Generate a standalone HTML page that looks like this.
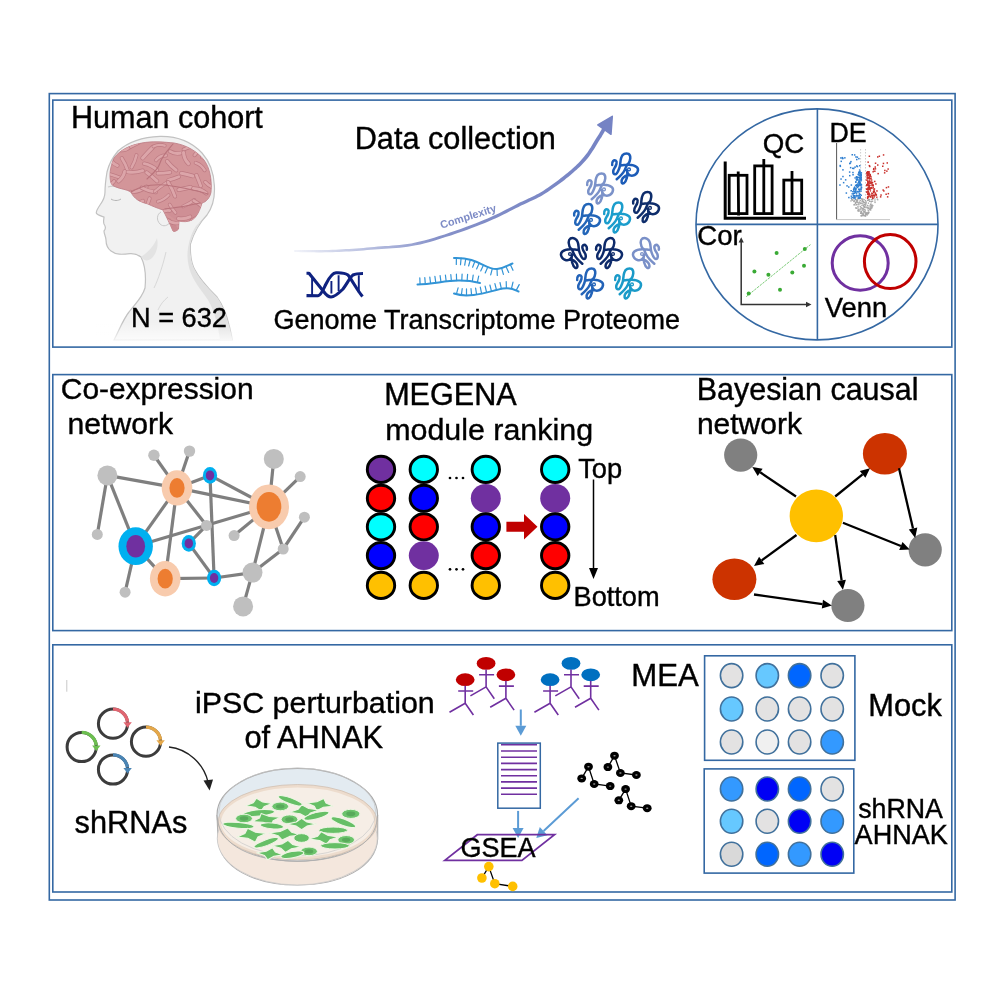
<!DOCTYPE html>
<html><head><meta charset="utf-8">
<style>
html,body{margin:0;padding:0;background:#fff;width:996px;height:996px;overflow:hidden}
svg{position:absolute;left:0;top:0;will-change:transform}
text{font-family:"Liberation Sans",sans-serif;fill:#000}
</style></head><body>
<svg width="996" height="996" viewBox="0 0 996 996">
<g fill="none" stroke="#3468a3" stroke-width="1.6">
<rect x="49.3" y="93.6" width="905.8" height="806.4"/>
<rect x="52.8" y="100.1" width="899" height="247"/>
<rect x="52.8" y="374.6" width="899" height="256"/>
<rect x="52.8" y="644.8" width="899" height="247.2"/>
</g>
<defs><clipPath id="hclip"><path d="M114,340 C120,328 124,318 129,312 C136,303 142,298 145,288 C146,278 145,265 141,257 C137,254 133,253.5 130,253.7 C122,254.5 116,255 111,251 C107,248 106,244 106,240 C106,237 104,234 104,231 C106,229 106,227 104,224 C103,221 104,219 104,217 C101,216 97,215 96.3,213 C96,211 98,208 100,205 C103,201 105,196 105,192 C105,185 106,178 107,172 C109,163 113,157 118,151 C128,142 142,137 160,136.3 C177,136 192,142 202,153 C210,162 214,175 214.4,186 C215,197 212,208 207,215 C200,222 194,232 190.4,244 C190,256 192,265 195,270 C200,280 210,290 217,297 C222,304 227,316 229,325 C230.5,330 231.5,336 232.5,340 Z"/></clipPath><linearGradient id="hfade" x1="0" y1="322" x2="0" y2="346" gradientUnits="userSpaceOnUse"><stop offset="0" stop-color="#fff" stop-opacity="0"/><stop offset="1" stop-color="#fff" stop-opacity="1"/></linearGradient></defs>
<path d="M114,340 C120,328 124,318 129,312 C136,303 142,298 145,288 C146,278 145,265 141,257 C137,254 133,253.5 130,253.7 C122,254.5 116,255 111,251 C107,248 106,244 106,240 C106,237 104,234 104,231 C106,229 106,227 104,224 C103,221 104,219 104,217 C101,216 97,215 96.3,213 C96,211 98,208 100,205 C103,201 105,196 105,192 C105,185 106,178 107,172 C109,163 113,157 118,151 C128,142 142,137 160,136.3 C177,136 192,142 202,153 C210,162 214,175 214.4,186 C215,197 212,208 207,215 C200,222 194,232 190.4,244 C190,256 192,265 195,270 C200,280 210,290 217,297 C222,304 227,316 229,325 C230.5,330 231.5,336 232.5,340 Z" fill="#f1f1f1" stroke="#c2c2c2" stroke-width="1.2"/>
<g clip-path="url(#hclip)">
<path d="M207,215 C200,222 194,232 190.4,244 C190,256 192,265 195,270 C200,280 210,290 217,297 C222,304 227,316 229,325 C230.5,330 231.5,336 232.5,340 L220,340 C218,325 214,310 208,300 C200,288 190,278 188,262 C186,250 190,235 196,226 Z" fill="#e1e1e1"/>
<path d="M141,257 C145,262 150,262 155,254 C158,248 158,243 157,238 C154,246 148,252 141,257 Z" fill="#e3e3e3"/>
<path d="M166,252 C163,265 158,280 154,288 M168,297 C164,300 160,305 158,310" fill="none" stroke="#d5d5d5" stroke-width="0.9"/>
</g>
<rect x="95" y="322" width="145" height="24" fill="url(#hfade)"/>
<path d="M161,212 C157,214 156,220 160,224 C163,227 168,226 170,222" fill="none" stroke="#c9c9c9" stroke-width="1"/>
<path d="M111,199 C114,201 118,201 121,199" fill="none" stroke="#b5b5b5" stroke-width="1"/>
<path d="M108,187 C111,186 115,186 118,187" fill="none" stroke="#cfcfcf" stroke-width="1.2"/>
<path d="M111,183 C109,176 110,167 114,158 C120,150 130,145 142,143 C152,141 164,142 174,143 C186,145 197,151 204,160 C210,168 212,180 211,192 C210,198 206,202 202,203 C200,210 197,217 192,220 C188,222 183,222 179,221 L178.5,229 C177,231 174,232 173,231 C170,224 166,216 163,210 C157,208 152,206 148,204 C140,202 134,199 131,192 C126,189 120,189 116,187 C113,186 112,185 111,183 Z" fill="#d39599" stroke="#c0828a" stroke-width="0.9"/>
<path d="M163,210 C170,207 185,205 200,203 C199,211 196,218 191,220 C186,222 180,222 176,220 C171,217 166,213 163,210 Z" fill="#cf8f95"/>
<path d="M170,218 L178.5,229 C177,231 174,232 173,231 C171,226 169,222 168,219 Z" fill="#cb8a90"/>
<defs><clipPath id="bclip"><path d="M111,183 C109,176 110,167 114,158 C120,150 130,145 142,143 C152,141 164,142 174,143 C186,145 197,151 204,160 C210,168 212,180 211,192 C210,198 206,202 202,203 C200,210 197,217 192,220 C188,222 183,222 179,221 L178.5,229 C177,231 174,232 173,231 C170,224 166,216 163,210 C157,208 152,206 148,204 C140,202 134,199 131,192 C126,189 120,189 116,187 C113,186 112,185 111,183 Z"/></clipPath></defs>
<g clip-path="url(#bclip)"><path d="M109.1,153.3 Q112.7,146.4 116.4,139.6" fill="none" stroke="#bd7a82" stroke-width="3.6" stroke-linecap="round"/><path d="M109.1,153.3 Q112.7,146.4 116.4,139.6" fill="none" stroke="#dca5a9" stroke-width="2.2" stroke-linecap="round"/><path d="M110.1,157.7 Q111.8,163.5 117.4,165.6" fill="none" stroke="#bd7a82" stroke-width="4.3" stroke-linecap="round"/><path d="M110.1,157.7 Q111.8,163.5 117.4,165.6" fill="none" stroke="#dca5a9" stroke-width="2.9" stroke-linecap="round"/><path d="M106.4,173.2 Q113.6,175.2 120.4,177.8" fill="none" stroke="#bd7a82" stroke-width="3.7" stroke-linecap="round"/><path d="M106.4,173.2 Q113.6,175.2 120.4,177.8" fill="none" stroke="#dca5a9" stroke-width="2.3" stroke-linecap="round"/><path d="M104.2,192.5 Q109.0,186.6 114.1,181.1" fill="none" stroke="#bd7a82" stroke-width="3.9" stroke-linecap="round"/><path d="M104.2,192.5 Q109.0,186.6 114.1,181.1" fill="none" stroke="#dca5a9" stroke-width="2.5" stroke-linecap="round"/><path d="M112.1,194.8 Q114.9,201.8 117.3,209.0" fill="none" stroke="#bd7a82" stroke-width="4.6" stroke-linecap="round"/><path d="M112.1,194.8 Q114.9,201.8 117.3,209.0" fill="none" stroke="#dca5a9" stroke-width="3.2" stroke-linecap="round"/><path d="M107.2,212.9 Q114.4,211.4 121.6,212.5" fill="none" stroke="#bd7a82" stroke-width="4.1" stroke-linecap="round"/><path d="M107.2,212.9 Q114.4,211.4 121.6,212.5" fill="none" stroke="#dca5a9" stroke-width="2.7" stroke-linecap="round"/><path d="M119.0,149.7 Q125.0,151.3 129.6,147.2" fill="none" stroke="#bd7a82" stroke-width="4.0" stroke-linecap="round"/><path d="M119.0,149.7 Q125.0,151.3 129.6,147.2" fill="none" stroke="#dca5a9" stroke-width="2.6" stroke-linecap="round"/><path d="M121.8,158.2 Q125.6,164.0 127.7,170.6" fill="none" stroke="#bd7a82" stroke-width="4.1" stroke-linecap="round"/><path d="M121.8,158.2 Q125.6,164.0 127.7,170.6" fill="none" stroke="#dca5a9" stroke-width="2.7" stroke-linecap="round"/><path d="M118.5,181.2 Q123.4,177.5 124.7,171.4" fill="none" stroke="#bd7a82" stroke-width="4.4" stroke-linecap="round"/><path d="M118.5,181.2 Q123.4,177.5 124.7,171.4" fill="none" stroke="#dca5a9" stroke-width="3.0" stroke-linecap="round"/><path d="M116.2,196.9 Q123.6,195.6 130.1,192.1" fill="none" stroke="#bd7a82" stroke-width="4.4" stroke-linecap="round"/><path d="M116.2,196.9 Q123.6,195.6 130.1,192.1" fill="none" stroke="#dca5a9" stroke-width="3.0" stroke-linecap="round"/><path d="M119.4,201.1 Q125.6,205.1 132.8,206.8" fill="none" stroke="#bd7a82" stroke-width="4.0" stroke-linecap="round"/><path d="M119.4,201.1 Q125.6,205.1 132.8,206.8" fill="none" stroke="#dca5a9" stroke-width="2.6" stroke-linecap="round"/><path d="M120.7,221.1 Q126.9,218.8 131.8,214.5" fill="none" stroke="#bd7a82" stroke-width="4.4" stroke-linecap="round"/><path d="M120.7,221.1 Q126.9,218.8 131.8,214.5" fill="none" stroke="#dca5a9" stroke-width="3.0" stroke-linecap="round"/><path d="M130.8,146.5 Q137.9,143.2 144.6,139.0" fill="none" stroke="#bd7a82" stroke-width="4.2" stroke-linecap="round"/><path d="M130.8,146.5 Q137.9,143.2 144.6,139.0" fill="none" stroke="#dca5a9" stroke-width="2.8" stroke-linecap="round"/><path d="M131.6,167.4 Q135.0,161.6 136.5,155.1" fill="none" stroke="#bd7a82" stroke-width="3.9" stroke-linecap="round"/><path d="M131.6,167.4 Q135.0,161.6 136.5,155.1" fill="none" stroke="#dca5a9" stroke-width="2.5" stroke-linecap="round"/><path d="M127.8,172.0 Q135.4,173.1 142.7,170.6" fill="none" stroke="#bd7a82" stroke-width="4.2" stroke-linecap="round"/><path d="M127.8,172.0 Q135.4,173.1 142.7,170.6" fill="none" stroke="#dca5a9" stroke-width="2.8" stroke-linecap="round"/><path d="M133.4,191.8 Q140.6,191.1 146.4,186.7" fill="none" stroke="#bd7a82" stroke-width="4.3" stroke-linecap="round"/><path d="M133.4,191.8 Q140.6,191.1 146.4,186.7" fill="none" stroke="#dca5a9" stroke-width="2.9" stroke-linecap="round"/><path d="M128.7,206.5 Q136.1,204.8 142.8,201.1" fill="none" stroke="#bd7a82" stroke-width="4.5" stroke-linecap="round"/><path d="M128.7,206.5 Q136.1,204.8 142.8,201.1" fill="none" stroke="#dca5a9" stroke-width="3.1" stroke-linecap="round"/><path d="M134.1,208.8 Q137.1,216.1 140.4,223.3" fill="none" stroke="#bd7a82" stroke-width="4.1" stroke-linecap="round"/><path d="M134.1,208.8 Q137.1,216.1 140.4,223.3" fill="none" stroke="#dca5a9" stroke-width="2.7" stroke-linecap="round"/><path d="M142.6,158.1 Q147.6,152.6 152.9,147.2" fill="none" stroke="#bd7a82" stroke-width="4.5" stroke-linecap="round"/><path d="M142.6,158.1 Q147.6,152.6 152.9,147.2" fill="none" stroke="#dca5a9" stroke-width="3.1" stroke-linecap="round"/><path d="M144.3,163.6 Q151.5,165.0 157.0,170.0" fill="none" stroke="#bd7a82" stroke-width="4.3" stroke-linecap="round"/><path d="M144.3,163.6 Q151.5,165.0 157.0,170.0" fill="none" stroke="#dca5a9" stroke-width="2.9" stroke-linecap="round"/><path d="M146.6,172.5 Q152.2,176.4 157.1,181.1" fill="none" stroke="#bd7a82" stroke-width="4.3" stroke-linecap="round"/><path d="M146.6,172.5 Q152.2,176.4 157.1,181.1" fill="none" stroke="#dca5a9" stroke-width="2.9" stroke-linecap="round"/><path d="M141.7,187.8 Q148.3,191.3 155.7,192.2" fill="none" stroke="#bd7a82" stroke-width="4.2" stroke-linecap="round"/><path d="M141.7,187.8 Q148.3,191.3 155.7,192.2" fill="none" stroke="#dca5a9" stroke-width="2.8" stroke-linecap="round"/><path d="M145.2,208.4 Q148.2,203.8 149.6,198.4" fill="none" stroke="#bd7a82" stroke-width="4.0" stroke-linecap="round"/><path d="M145.2,208.4 Q148.2,203.8 149.6,198.4" fill="none" stroke="#dca5a9" stroke-width="2.6" stroke-linecap="round"/><path d="M142.8,225.1 Q146.6,218.5 153.8,216.1" fill="none" stroke="#bd7a82" stroke-width="4.2" stroke-linecap="round"/><path d="M142.8,225.1 Q146.6,218.5 153.8,216.1" fill="none" stroke="#dca5a9" stroke-width="2.8" stroke-linecap="round"/><path d="M153.4,146.5 Q158.9,143.9 164.7,145.7" fill="none" stroke="#bd7a82" stroke-width="3.7" stroke-linecap="round"/><path d="M153.4,146.5 Q158.9,143.9 164.7,145.7" fill="none" stroke="#dca5a9" stroke-width="2.3" stroke-linecap="round"/><path d="M156.0,160.3 Q159.8,155.3 166.0,155.5" fill="none" stroke="#bd7a82" stroke-width="3.8" stroke-linecap="round"/><path d="M156.0,160.3 Q159.8,155.3 166.0,155.5" fill="none" stroke="#dca5a9" stroke-width="2.4" stroke-linecap="round"/><path d="M157.8,173.4 Q164.0,173.4 170.0,172.4" fill="none" stroke="#bd7a82" stroke-width="4.2" stroke-linecap="round"/><path d="M157.8,173.4 Q164.0,173.4 170.0,172.4" fill="none" stroke="#dca5a9" stroke-width="2.8" stroke-linecap="round"/><path d="M154.7,191.5 Q160.6,186.4 167.1,182.3" fill="none" stroke="#bd7a82" stroke-width="3.6" stroke-linecap="round"/><path d="M154.7,191.5 Q160.6,186.4 167.1,182.3" fill="none" stroke="#dca5a9" stroke-width="2.2" stroke-linecap="round"/><path d="M157.9,201.6 Q164.3,200.0 168.6,195.1" fill="none" stroke="#bd7a82" stroke-width="3.7" stroke-linecap="round"/><path d="M157.9,201.6 Q164.3,200.0 168.6,195.1" fill="none" stroke="#dca5a9" stroke-width="2.3" stroke-linecap="round"/><path d="M160.0,213.7 Q164.1,209.8 169.7,210.6" fill="none" stroke="#bd7a82" stroke-width="4.2" stroke-linecap="round"/><path d="M160.0,213.7 Q164.1,209.8 169.7,210.6" fill="none" stroke="#dca5a9" stroke-width="2.8" stroke-linecap="round"/><path d="M170.0,151.4 Q175.7,154.8 182.0,152.7" fill="none" stroke="#bd7a82" stroke-width="4.2" stroke-linecap="round"/><path d="M170.0,151.4 Q175.7,154.8 182.0,152.7" fill="none" stroke="#dca5a9" stroke-width="2.8" stroke-linecap="round"/><path d="M167.2,161.3 Q171.0,166.3 176.1,170.1" fill="none" stroke="#bd7a82" stroke-width="4.4" stroke-linecap="round"/><path d="M167.2,161.3 Q171.0,166.3 176.1,170.1" fill="none" stroke="#dca5a9" stroke-width="3.0" stroke-linecap="round"/><path d="M168.5,180.2 Q173.8,178.8 178.8,176.8" fill="none" stroke="#bd7a82" stroke-width="4.2" stroke-linecap="round"/><path d="M168.5,180.2 Q173.8,178.8 178.8,176.8" fill="none" stroke="#dca5a9" stroke-width="2.8" stroke-linecap="round"/><path d="M168.1,182.2 Q172.4,188.9 175.0,196.4" fill="none" stroke="#bd7a82" stroke-width="4.2" stroke-linecap="round"/><path d="M168.1,182.2 Q172.4,188.9 175.0,196.4" fill="none" stroke="#dca5a9" stroke-width="2.8" stroke-linecap="round"/><path d="M169.7,204.6 Q172.3,209.0 175.4,212.8" fill="none" stroke="#bd7a82" stroke-width="3.7" stroke-linecap="round"/><path d="M169.7,204.6 Q172.3,209.0 175.4,212.8" fill="none" stroke="#dca5a9" stroke-width="2.3" stroke-linecap="round"/><path d="M167.5,220.0 Q172.0,223.8 177.9,223.0" fill="none" stroke="#bd7a82" stroke-width="4.2" stroke-linecap="round"/><path d="M167.5,220.0 Q172.0,223.8 177.9,223.0" fill="none" stroke="#dca5a9" stroke-width="2.8" stroke-linecap="round"/><path d="M183.6,149.5 Q189.2,146.5 195.6,145.8" fill="none" stroke="#bd7a82" stroke-width="3.8" stroke-linecap="round"/><path d="M183.6,149.5 Q189.2,146.5 195.6,145.8" fill="none" stroke="#dca5a9" stroke-width="2.4" stroke-linecap="round"/><path d="M183.6,152.5 Q183.8,159.1 188.5,163.7" fill="none" stroke="#bd7a82" stroke-width="4.6" stroke-linecap="round"/><path d="M183.6,152.5 Q183.8,159.1 188.5,163.7" fill="none" stroke="#dca5a9" stroke-width="3.2" stroke-linecap="round"/><path d="M181.5,173.3 Q187.2,174.6 192.8,176.0" fill="none" stroke="#bd7a82" stroke-width="4.6" stroke-linecap="round"/><path d="M181.5,173.3 Q187.2,174.6 192.8,176.0" fill="none" stroke="#dca5a9" stroke-width="3.2" stroke-linecap="round"/><path d="M178.8,189.7 Q184.6,188.4 190.5,187.3" fill="none" stroke="#bd7a82" stroke-width="4.6" stroke-linecap="round"/><path d="M178.8,189.7 Q184.6,188.4 190.5,187.3" fill="none" stroke="#dca5a9" stroke-width="3.2" stroke-linecap="round"/><path d="M183.2,206.4 Q189.1,203.8 194.4,200.0" fill="none" stroke="#bd7a82" stroke-width="3.7" stroke-linecap="round"/><path d="M183.2,206.4 Q189.1,203.8 194.4,200.0" fill="none" stroke="#dca5a9" stroke-width="2.3" stroke-linecap="round"/><path d="M178.4,218.5 Q184.5,219.6 190.0,216.9" fill="none" stroke="#bd7a82" stroke-width="4.4" stroke-linecap="round"/><path d="M178.4,218.5 Q184.5,219.6 190.0,216.9" fill="none" stroke="#dca5a9" stroke-width="3.0" stroke-linecap="round"/><path d="M194.6,155.2 Q199.5,150.0 199.5,142.9" fill="none" stroke="#bd7a82" stroke-width="3.9" stroke-linecap="round"/><path d="M194.6,155.2 Q199.5,150.0 199.5,142.9" fill="none" stroke="#dca5a9" stroke-width="2.5" stroke-linecap="round"/><path d="M195.7,162.9 Q201.5,164.9 204.6,170.2" fill="none" stroke="#bd7a82" stroke-width="3.9" stroke-linecap="round"/><path d="M195.7,162.9 Q201.5,164.9 204.6,170.2" fill="none" stroke="#dca5a9" stroke-width="2.5" stroke-linecap="round"/><path d="M196.4,175.1 Q198.7,180.5 200.7,186.0" fill="none" stroke="#bd7a82" stroke-width="4.2" stroke-linecap="round"/><path d="M196.4,175.1 Q198.7,180.5 200.7,186.0" fill="none" stroke="#dca5a9" stroke-width="2.8" stroke-linecap="round"/><path d="M193.4,188.5 Q200.6,188.7 206.2,193.2" fill="none" stroke="#bd7a82" stroke-width="4.3" stroke-linecap="round"/><path d="M193.4,188.5 Q200.6,188.7 206.2,193.2" fill="none" stroke="#dca5a9" stroke-width="2.9" stroke-linecap="round"/><path d="M193.7,200.6 Q199.0,203.3 203.1,207.6" fill="none" stroke="#bd7a82" stroke-width="4.1" stroke-linecap="round"/><path d="M193.7,200.6 Q199.0,203.3 203.1,207.6" fill="none" stroke="#dca5a9" stroke-width="2.7" stroke-linecap="round"/><path d="M191.2,221.0 Q196.6,217.2 202.8,214.8" fill="none" stroke="#bd7a82" stroke-width="4.1" stroke-linecap="round"/><path d="M191.2,221.0 Q196.6,217.2 202.8,214.8" fill="none" stroke="#dca5a9" stroke-width="2.7" stroke-linecap="round"/><path d="M207.5,144.2 Q214.0,146.8 218.7,151.8" fill="none" stroke="#bd7a82" stroke-width="3.6" stroke-linecap="round"/><path d="M207.5,144.2 Q214.0,146.8 218.7,151.8" fill="none" stroke="#dca5a9" stroke-width="2.2" stroke-linecap="round"/><path d="M202.3,157.1 Q210.0,156.6 217.7,155.5" fill="none" stroke="#bd7a82" stroke-width="4.5" stroke-linecap="round"/><path d="M202.3,157.1 Q210.0,156.6 217.7,155.5" fill="none" stroke="#dca5a9" stroke-width="3.1" stroke-linecap="round"/><path d="M212.2,180.0 Q215.3,173.4 217.7,166.4" fill="none" stroke="#bd7a82" stroke-width="4.0" stroke-linecap="round"/><path d="M212.2,180.0 Q215.3,173.4 217.7,166.4" fill="none" stroke="#dca5a9" stroke-width="2.6" stroke-linecap="round"/><path d="M205.4,182.1 Q210.2,187.6 217.5,188.8" fill="none" stroke="#bd7a82" stroke-width="4.1" stroke-linecap="round"/><path d="M205.4,182.1 Q210.2,187.6 217.5,188.8" fill="none" stroke="#dca5a9" stroke-width="2.7" stroke-linecap="round"/><path d="M206.6,204.7 Q212.1,201.2 218.5,201.3" fill="none" stroke="#bd7a82" stroke-width="4.5" stroke-linecap="round"/><path d="M206.6,204.7 Q212.1,201.2 218.5,201.3" fill="none" stroke="#dca5a9" stroke-width="3.1" stroke-linecap="round"/><path d="M205.2,218.1 Q212.7,216.3 218.3,211.0" fill="none" stroke="#bd7a82" stroke-width="3.7" stroke-linecap="round"/><path d="M205.2,218.1 Q212.7,216.3 218.3,211.0" fill="none" stroke="#dca5a9" stroke-width="2.3" stroke-linecap="round"/></g>
<g fill="none" stroke="#b9737b" stroke-width="1.1" stroke-linecap="round">
<path d="M173,144 C168,150 162,156 160,163 C158,170 152,174 147,179"/>
<path d="M131,192 C140,186 152,184 165,185 C180,187 195,190 208,194"/>
<path d="M165,209 C175,208 188,206 200,203"/>
</g>
<defs><linearGradient id="cg" x1="296" y1="0" x2="612" y2="0" gradientUnits="userSpaceOnUse">
<stop offset="0" stop-color="#8a96cc" stop-opacity="0.12"/><stop offset="0.22" stop-color="#8a96cc" stop-opacity="0.6"/><stop offset="0.45" stop-color="#7f8bc6" stop-opacity="0.95"/><stop offset="1" stop-color="#7583c4"/></linearGradient></defs>
<path d="M294.2,252.1 L296.0,252.1 L298.3,252.1 L300.9,252.2 L303.9,252.2 L307.1,252.3 L310.6,252.3 L314.1,252.3 L317.8,252.4 L321.5,252.4 L325.2,252.3 L328.8,252.3 L332.2,252.2 L335.6,252.1 L339.0,251.9 L342.4,251.8 L345.9,251.6 L349.3,251.4 L352.9,251.2 L356.4,250.9 L359.9,250.7 L363.5,250.4 L367.1,250.1 L370.8,249.8 L374.4,249.5 L378.0,249.2 L381.6,248.9 L385.2,248.7 L388.8,248.5 L392.4,248.3 L396.1,248.0 L399.9,247.7 L403.7,247.2 L407.7,246.7 L411.7,246.1 L415.9,245.3 L420.3,244.4 L424.9,243.2 L429.8,241.9 L434.9,240.4 L440.2,238.8 L445.5,237.1 L450.9,235.4 L456.3,233.5 L461.6,231.7 L466.7,229.9 L471.7,228.0 L476.4,226.3 L480.8,224.6 L484.9,223.0 L488.9,221.3 L492.7,219.6 L496.4,217.9 L500.0,216.2 L503.4,214.5 L506.7,212.9 L509.8,211.3 L512.8,209.7 L515.7,208.3 L518.5,206.9 L521.1,205.6 L523.6,204.4 L525.8,203.4 L527.9,202.4 L529.8,201.6 L531.5,200.8 L533.2,200.0 L534.9,199.2 L536.5,198.5 L538.2,197.6 L539.9,196.7 L541.7,195.7 L543.6,194.5 L545.6,193.3 L547.7,192.0 L549.8,190.6 L551.9,189.1 L554.0,187.6 L556.2,186.1 L558.3,184.5 L560.4,183.0 L562.5,181.4 L564.5,179.9 L566.4,178.3 L568.2,176.9 L570.0,175.4 L571.7,174.0 L573.4,172.6 L575.0,171.1 L576.6,169.7 L578.1,168.3 L579.6,166.9 L581.1,165.4 L582.5,164.0 L583.9,162.5 L585.3,161.0 L586.6,159.5 L587.9,157.9 L589.2,156.2 L590.4,154.5 L591.6,152.8 L592.7,151.1 L593.8,149.4 L594.9,147.7 L595.9,146.0 L596.8,144.4 L597.7,143.0 L598.6,141.6 L599.4,140.3 L600.1,139.1 L600.9,138.0 L601.6,136.9 L602.2,135.8 L602.8,134.8 L603.3,133.9 L603.8,133.1 L604.3,132.3 L604.7,131.6 L605.0,131.0 L605.4,130.4 L605.6,130.0 L602.4,128.0 L602.1,128.5 L601.8,129.1 L601.4,129.7 L601.0,130.4 L600.5,131.2 L600.1,132.0 L599.5,132.9 L599.0,133.9 L598.3,134.9 L597.7,136.0 L597.0,137.1 L596.2,138.3 L595.4,139.6 L594.5,141.0 L593.6,142.5 L592.7,144.1 L591.7,145.7 L590.7,147.4 L589.6,149.1 L588.5,150.8 L587.4,152.4 L586.2,154.0 L585.0,155.6 L583.8,157.1 L582.5,158.6 L581.2,160.0 L579.9,161.5 L578.5,162.9 L577.1,164.3 L575.7,165.7 L574.2,167.1 L572.6,168.5 L571.0,169.9 L569.4,171.3 L567.7,172.7 L566.0,174.1 L564.2,175.6 L562.3,177.1 L560.3,178.6 L558.3,180.2 L556.2,181.7 L554.1,183.3 L552.0,184.8 L549.9,186.3 L547.8,187.7 L545.8,189.1 L543.8,190.4 L541.8,191.7 L540.0,192.8 L538.3,193.7 L536.6,194.6 L535.0,195.5 L533.4,196.2 L531.8,197.0 L530.2,197.8 L528.4,198.6 L526.5,199.4 L524.4,200.4 L522.2,201.4 L519.7,202.6 L517.0,203.9 L514.2,205.4 L511.3,206.9 L508.3,208.4 L505.2,210.0 L502.0,211.7 L498.6,213.4 L495.1,215.1 L491.4,216.8 L487.6,218.5 L483.7,220.1 L479.6,221.8 L475.3,223.4 L470.6,225.2 L465.7,227.0 L460.6,228.9 L455.3,230.7 L450.0,232.6 L444.6,234.4 L439.3,236.1 L434.1,237.7 L429.0,239.2 L424.2,240.5 L419.7,241.6 L415.4,242.6 L411.3,243.4 L407.3,244.0 L403.4,244.6 L399.6,245.0 L395.9,245.3 L392.3,245.6 L388.6,245.9 L385.0,246.1 L381.5,246.3 L377.8,246.6 L374.2,246.9 L370.5,247.3 L366.9,247.6 L363.3,247.9 L359.8,248.2 L356.2,248.4 L352.7,248.7 L349.2,248.9 L345.7,249.1 L342.3,249.3 L338.9,249.5 L335.5,249.7 L332.2,249.8 L328.7,249.9 L325.2,250.0 L321.5,250.0 L317.8,250.1 L314.2,250.1 L310.6,250.0 L307.1,250.0 L303.9,250.0 L300.9,250.0 L298.3,249.9 L296.0,249.9 L294.2,249.9Z" fill="url(#cg)"/>
<path d="M612.3,116.3 L597.8,125 L611,134.3 Z" fill="#7583c4" stroke="#7583c4" stroke-width="1.5" stroke-linejoin="round"/>
<text x="441.5" y="228.8" font-size="10.8" font-weight="bold" transform="rotate(-17.5 441.5 228.8)" style="fill:#7d8bc6">Complexity</text>
<g fill="none" stroke="#0f2280" stroke-linecap="butt" stroke-linejoin="round">
<path d="M306.5,273.2 H309 L324,292 C327,296 329,297 331,297 C335,297 339,293 343,289 C347,284 350,277 353,275 C356,273.5 359,273.5 363,273.5" stroke-width="3.1"/>
<path d="M306.5,295.6 L318,295.8 C321,295.5 323,290 326,284 C329,278 332,273 336,272.8 C340,272.6 345,273 348,275 C352,280 357,290 362.5,296.5" stroke-width="3.1"/>
<path d="M312.1,278 V295 M331.4,281 V293.4 M338.6,275.3 V291 M358.8,275.3 V292.8" stroke-width="1.9"/>
</g>
<g fill="none" stroke="#3294d6" stroke-linecap="round"><path d="M454,258 C478,257 486,270 497,269 C505,268 508,265 512.5,263.5" stroke-width="2"/><path d="M417.5,284.5 C440,284 455,277 480,283" stroke-width="2"/><path d="M454,293.5 C470,299 490,291 503,288.5 C512,287 515,290 518.5,291.5" stroke-width="2"/><path d="M456.4,257.9 L456.3,264.4 M461.1,258.1 L460.5,264.6 M465.8,258.7 L464.7,265.1 M470.4,259.7 L468.6,266.0 M474.9,261.2 L472.6,267.2 M479.3,263.0 L476.6,268.9 M483.5,265.0 L480.7,270.9 M487.8,267.1 L485.2,273.0 M492.3,268.6 L490.7,274.9 M497.0,269.0 L497.3,275.5 M501.6,268.1 L503.4,274.4 M506.0,266.4 L508.7,272.4 M510.3,264.4 L513.0,270.3" stroke-width="1.2"/><path d="M420.1,284.4 L419.8,277.9 M425.3,284.1 L424.8,277.6 M430.6,283.5 L429.8,277.1 M435.8,282.9 L434.9,276.4 M441.0,282.2 L440.1,275.7 M446.2,281.5 L445.4,275.0 M451.4,281.0 L450.8,274.5 M456.6,280.6 L456.4,274.2 M461.8,280.6 L462.1,274.1 M467.1,280.9 L467.6,274.4 M472.3,281.5 L473.2,275.1 M477.4,282.4 L478.7,276.0" stroke-width="1.2"/><path d="M456.4,294.2 L458.1,287.9 M461.4,295.1 L462.2,288.7 M466.5,295.4 L466.5,288.9 M471.6,295.1 L471.0,288.7 M476.6,294.5 L475.6,288.1 M481.6,293.6 L480.3,287.2 M486.6,292.5 L485.1,286.2 M491.5,291.3 L489.9,285.0 M496.5,290.0 L494.9,283.7 M501.4,288.8 L500.0,282.5 M506.4,288.1 L506.2,281.6 M511.5,288.5 L513.0,282.2 M516.2,290.4 L519.2,284.6" stroke-width="1.2"/></g>
<defs><g id="prot"><path d="M-12.8,-2.9 C-13.4,-6.1 -11.2,-8.7 -9,-7.2 C-7.6,-6.1 -8.7,-2.5 -10.5,0 C-12.3,2.5 -12.3,6.5 -9.8,6.3 C-7.6,6.1 -6.5,2.2 -5.4,-0.7 C-4.3,-3.6 -5.1,-7.2 -3.6,-10.8 C-2.5,-13.7 0.7,-15.5 3.6,-14.1 C6.1,-12.6 5.8,-7.2 2.9,-3.6 M-4.3,-2.5 C0,-3.6 7.9,-4 11.6,-1.1 C14.5,1.4 12.6,6.5 7.9,7.6 C4.3,8.3 2.2,5.4 1.8,2.2 M-8.3,11.2 C-5.4,8.7 -2.2,5.8 -0.4,2.2 C0.7,0 1.4,-1.8 2.2,-3.6 M2.2,3.6 C2.9,7.2 1.4,13.7 -1.1,15.2 C-3.6,16.3 -4.3,13 -2.2,10.1 C-0.4,7.9 1.4,6.9 4.3,7.2" fill="none" stroke-width="2.5" stroke-linecap="round"/><circle cx="4" cy="1.4" r="1.4" fill="none" stroke-width="1.3"/></g></defs>
<use href="#prot" transform="translate(625,168)" stroke="#1c5cb8"/>
<use href="#prot" transform="translate(600,188)" stroke="#7b92c9"/>
<use href="#prot" transform="translate(646,206.5)" stroke="#0e2d6b"/>
<use href="#prot" transform="translate(587,218.5)" stroke="#2265b8"/>
<use href="#prot" transform="translate(617,217)" stroke="#1b9dcc"/>
<use href="#prot" transform="translate(574,252.6) scale(-1,1)" stroke="#0d2a6a"/>
<use href="#prot" transform="translate(609,252.6)" stroke="#0d2a6a"/>
<use href="#prot" transform="translate(646,252.6) scale(-1,1)" stroke="#7a90c8"/>
<use href="#prot" transform="translate(590,283)" stroke="#2363b8"/>
<use href="#prot" transform="translate(628,283)" stroke="#1a9ac8"/>
<ellipse cx="817" cy="224.4" rx="121" ry="115.5" fill="none" stroke="#3468a3" stroke-width="1.6"/>
<path d="M817.4,109 V340 M696,224.4 H938" stroke="#3468a3" stroke-width="1.6"/>
<g fill="none" stroke="#000" stroke-width="2.8">
<path d="M725.2,161.5 V218.2 H806" stroke-width="3"/>
<rect x="729.2" y="175.3" width="17.8" height="38.3"/>
<rect x="754.7" y="165.9" width="17.4" height="47.7"/>
<rect x="783.8" y="180.1" width="17.9" height="33.5"/>
<path d="M738.2,171.5 L738.6,215.4 M763.8,159 V215 M792,171 V215"/>
</g>
<g><path d="M836.6,143 V219.6" stroke="#444" stroke-width="0.9"/><path d="M836.6,219.6 H890" stroke="#c8c8c8" stroke-width="1"/><path d="M860.6,149 V218 M865.5,149 V218" stroke="#aaa" stroke-width="0.6" stroke-dasharray="1.5,1.5"/><rect x="855.7" y="203.7" width="1.3" height="1.3" fill="#a6a6a6"/><rect x="857.4" y="209.4" width="1.3" height="1.3" fill="#a6a6a6"/><rect x="861.1" y="207.4" width="1.3" height="1.3" fill="#a6a6a6"/><rect x="863.5" y="199.0" width="1.3" height="1.3" fill="#a6a6a6"/><rect x="861.4" y="198.7" width="1.3" height="1.3" fill="#a6a6a6"/><rect x="851.7" y="199.2" width="1.3" height="1.3" fill="#a6a6a6"/><rect x="869.6" y="205.4" width="1.3" height="1.3" fill="#a6a6a6"/><rect x="855.9" y="200.2" width="1.3" height="1.3" fill="#a6a6a6"/><rect x="869.7" y="209.0" width="1.3" height="1.3" fill="#a6a6a6"/><rect x="861.7" y="208.1" width="1.3" height="1.3" fill="#a6a6a6"/><rect x="860.8" y="215.1" width="1.3" height="1.3" fill="#a6a6a6"/><rect x="861.5" y="213.0" width="1.3" height="1.3" fill="#a6a6a6"/><rect x="853.2" y="200.5" width="1.3" height="1.3" fill="#a6a6a6"/><rect x="870.3" y="203.4" width="1.3" height="1.3" fill="#a6a6a6"/><rect x="865.4" y="201.2" width="1.3" height="1.3" fill="#a6a6a6"/><rect x="861.5" y="209.2" width="1.3" height="1.3" fill="#a6a6a6"/><rect x="856.2" y="207.6" width="1.3" height="1.3" fill="#a6a6a6"/><rect x="854.9" y="199.0" width="1.3" height="1.3" fill="#a6a6a6"/><rect x="862.4" y="209.9" width="1.3" height="1.3" fill="#a6a6a6"/><rect x="865.2" y="203.5" width="1.3" height="1.3" fill="#a6a6a6"/><rect x="859.6" y="205.9" width="1.3" height="1.3" fill="#a6a6a6"/><rect x="865.3" y="211.9" width="1.3" height="1.3" fill="#a6a6a6"/><rect x="865.1" y="202.3" width="1.3" height="1.3" fill="#a6a6a6"/><rect x="869.6" y="207.2" width="1.3" height="1.3" fill="#a6a6a6"/><rect x="860.8" y="210.8" width="1.3" height="1.3" fill="#a6a6a6"/><rect x="861.2" y="215.2" width="1.3" height="1.3" fill="#a6a6a6"/><rect x="868.3" y="205.3" width="1.3" height="1.3" fill="#a6a6a6"/><rect x="863.0" y="200.7" width="1.3" height="1.3" fill="#a6a6a6"/><rect x="868.2" y="198.7" width="1.3" height="1.3" fill="#a6a6a6"/><rect x="864.1" y="211.4" width="1.3" height="1.3" fill="#a6a6a6"/><rect x="861.8" y="213.3" width="1.3" height="1.3" fill="#a6a6a6"/><rect x="864.5" y="210.2" width="1.3" height="1.3" fill="#a6a6a6"/><rect x="862.6" y="208.1" width="1.3" height="1.3" fill="#a6a6a6"/><rect x="867.3" y="212.7" width="1.3" height="1.3" fill="#a6a6a6"/><rect x="866.3" y="206.3" width="1.3" height="1.3" fill="#a6a6a6"/><rect x="869.0" y="199.1" width="1.3" height="1.3" fill="#a6a6a6"/><rect x="870.1" y="209.3" width="1.3" height="1.3" fill="#a6a6a6"/><rect x="861.3" y="212.4" width="1.3" height="1.3" fill="#a6a6a6"/><rect x="866.7" y="204.8" width="1.3" height="1.3" fill="#a6a6a6"/><rect x="862.2" y="198.4" width="1.3" height="1.3" fill="#a6a6a6"/><rect x="853.4" y="200.9" width="1.3" height="1.3" fill="#a6a6a6"/><rect x="871.0" y="199.0" width="1.3" height="1.3" fill="#a6a6a6"/><rect x="856.5" y="200.3" width="1.3" height="1.3" fill="#a6a6a6"/><rect x="870.8" y="204.8" width="1.3" height="1.3" fill="#a6a6a6"/><rect x="861.9" y="199.4" width="1.3" height="1.3" fill="#a6a6a6"/><rect x="869.5" y="207.6" width="1.3" height="1.3" fill="#a6a6a6"/><rect x="866.8" y="212.3" width="1.3" height="1.3" fill="#a6a6a6"/><rect x="861.3" y="202.9" width="1.3" height="1.3" fill="#a6a6a6"/><rect x="871.4" y="204.3" width="1.3" height="1.3" fill="#a6a6a6"/><rect x="861.2" y="214.8" width="1.3" height="1.3" fill="#a6a6a6"/><rect x="856.4" y="201.1" width="1.3" height="1.3" fill="#a6a6a6"/><rect x="862.9" y="202.1" width="1.3" height="1.3" fill="#a6a6a6"/><rect x="859.7" y="208.3" width="1.3" height="1.3" fill="#a6a6a6"/><rect x="860.9" y="198.1" width="1.3" height="1.3" fill="#a6a6a6"/><rect x="864.7" y="204.5" width="1.3" height="1.3" fill="#a6a6a6"/><rect x="864.5" y="214.7" width="1.3" height="1.3" fill="#a6a6a6"/><rect x="865.3" y="207.0" width="1.3" height="1.3" fill="#a6a6a6"/><rect x="857.5" y="209.8" width="1.3" height="1.3" fill="#a6a6a6"/><rect x="865.4" y="213.7" width="1.3" height="1.3" fill="#a6a6a6"/><rect x="865.7" y="213.3" width="1.3" height="1.3" fill="#a6a6a6"/><rect x="861.3" y="204.9" width="1.3" height="1.3" fill="#a6a6a6"/><rect x="867.0" y="199.8" width="1.3" height="1.3" fill="#a6a6a6"/><rect x="851.0" y="199.1" width="1.3" height="1.3" fill="#a6a6a6"/><rect x="854.9" y="201.7" width="1.3" height="1.3" fill="#a6a6a6"/><rect x="853.7" y="204.0" width="1.3" height="1.3" fill="#a6a6a6"/><rect x="852.8" y="198.0" width="1.3" height="1.3" fill="#a6a6a6"/><rect x="859.6" y="199.8" width="1.3" height="1.3" fill="#a6a6a6"/><rect x="874.3" y="198.4" width="1.3" height="1.3" fill="#a6a6a6"/><rect x="858.2" y="208.7" width="1.3" height="1.3" fill="#a6a6a6"/><rect x="859.7" y="202.4" width="1.3" height="1.3" fill="#a6a6a6"/><rect x="855.4" y="204.4" width="1.3" height="1.3" fill="#a6a6a6"/><rect x="867.6" y="212.9" width="1.3" height="1.3" fill="#a6a6a6"/><rect x="863.0" y="206.2" width="1.3" height="1.3" fill="#a6a6a6"/><rect x="852.2" y="199.5" width="1.3" height="1.3" fill="#a6a6a6"/><rect x="858.3" y="204.0" width="1.3" height="1.3" fill="#a6a6a6"/><rect x="860.2" y="212.5" width="1.3" height="1.3" fill="#a6a6a6"/><rect x="876.6" y="198.4" width="1.3" height="1.3" fill="#a6a6a6"/><rect x="857.4" y="207.2" width="1.3" height="1.3" fill="#a6a6a6"/><rect x="855.5" y="207.5" width="1.3" height="1.3" fill="#a6a6a6"/><rect x="871.3" y="207.2" width="1.3" height="1.3" fill="#a6a6a6"/><rect x="865.0" y="213.1" width="1.3" height="1.3" fill="#a6a6a6"/><rect x="860.2" y="202.6" width="1.3" height="1.3" fill="#a6a6a6"/><rect x="870.3" y="200.9" width="1.3" height="1.3" fill="#a6a6a6"/><rect x="868.0" y="207.3" width="1.3" height="1.3" fill="#a6a6a6"/><rect x="857.3" y="203.8" width="1.3" height="1.3" fill="#a6a6a6"/><rect x="868.0" y="212.2" width="1.3" height="1.3" fill="#a6a6a6"/><rect x="866.0" y="212.9" width="1.3" height="1.3" fill="#a6a6a6"/><rect x="865.6" y="212.3" width="1.3" height="1.3" fill="#a6a6a6"/><rect x="863.7" y="202.0" width="1.3" height="1.3" fill="#a6a6a6"/><rect x="853.4" y="204.2" width="1.3" height="1.3" fill="#a6a6a6"/><rect x="856.8" y="198.5" width="1.3" height="1.3" fill="#a6a6a6"/><rect x="867.8" y="202.5" width="1.3" height="1.3" fill="#a6a6a6"/><rect x="863.0" y="214.7" width="1.3" height="1.3" fill="#a6a6a6"/><rect x="866.5" y="214.4" width="1.3" height="1.3" fill="#a6a6a6"/><rect x="862.5" y="214.7" width="1.3" height="1.3" fill="#a6a6a6"/><rect x="856.6" y="201.9" width="1.3" height="1.3" fill="#a6a6a6"/><rect x="855.9" y="201.4" width="1.3" height="1.3" fill="#a6a6a6"/><rect x="869.1" y="208.9" width="1.3" height="1.3" fill="#a6a6a6"/><rect x="863.1" y="212.7" width="1.3" height="1.3" fill="#a6a6a6"/><rect x="867.4" y="209.4" width="1.3" height="1.3" fill="#a6a6a6"/><rect x="867.8" y="199.5" width="1.3" height="1.3" fill="#a6a6a6"/><rect x="865.3" y="213.9" width="1.3" height="1.3" fill="#a6a6a6"/><rect x="863.1" y="211.1" width="1.3" height="1.3" fill="#a6a6a6"/><rect x="870.7" y="201.1" width="1.3" height="1.3" fill="#a6a6a6"/><rect x="869.8" y="203.8" width="1.3" height="1.3" fill="#a6a6a6"/><rect x="862.7" y="215.0" width="1.3" height="1.3" fill="#a6a6a6"/><rect x="872.2" y="205.0" width="1.3" height="1.3" fill="#a6a6a6"/><rect x="859.4" y="210.7" width="1.3" height="1.3" fill="#a6a6a6"/><rect x="853.9" y="200.2" width="1.3" height="1.3" fill="#a6a6a6"/><rect x="865.6" y="213.8" width="1.3" height="1.3" fill="#a6a6a6"/><rect x="871.9" y="200.6" width="1.3" height="1.3" fill="#a6a6a6"/><rect x="864.2" y="215.2" width="1.3" height="1.3" fill="#a6a6a6"/><rect x="864.3" y="204.1" width="1.3" height="1.3" fill="#a6a6a6"/><rect x="850.3" y="200.3" width="1.3" height="1.3" fill="#a6a6a6"/><rect x="864.2" y="215.0" width="1.3" height="1.3" fill="#a6a6a6"/><rect x="870.6" y="207.2" width="1.3" height="1.3" fill="#a6a6a6"/><rect x="870.4" y="205.6" width="1.3" height="1.3" fill="#a6a6a6"/><rect x="860.6" y="212.5" width="1.3" height="1.3" fill="#a6a6a6"/><rect x="858.4" y="202.4" width="1.3" height="1.3" fill="#a6a6a6"/><rect x="865.4" y="202.2" width="1.3" height="1.3" fill="#a6a6a6"/><rect x="861.4" y="202.5" width="1.3" height="1.3" fill="#a6a6a6"/><rect x="874.3" y="200.3" width="1.3" height="1.3" fill="#a6a6a6"/><rect x="862.4" y="204.2" width="1.3" height="1.3" fill="#a6a6a6"/><rect x="869.5" y="208.2" width="1.3" height="1.3" fill="#a6a6a6"/><rect x="871.4" y="205.4" width="1.3" height="1.3" fill="#a6a6a6"/><rect x="863.9" y="206.8" width="1.3" height="1.3" fill="#a6a6a6"/><rect x="855.2" y="207.2" width="1.3" height="1.3" fill="#a6a6a6"/><rect x="857.3" y="205.7" width="1.3" height="1.3" fill="#a6a6a6"/><rect x="872.2" y="198.1" width="1.3" height="1.3" fill="#a6a6a6"/><rect x="862.6" y="201.0" width="1.3" height="1.3" fill="#a6a6a6"/><rect x="864.0" y="210.7" width="1.3" height="1.3" fill="#a6a6a6"/><rect x="863.7" y="203.7" width="1.3" height="1.3" fill="#a6a6a6"/><rect x="867.9" y="207.7" width="1.3" height="1.3" fill="#a6a6a6"/><rect x="864.9" y="199.9" width="1.3" height="1.3" fill="#a6a6a6"/><rect x="858.0" y="202.3" width="1.3" height="1.3" fill="#a6a6a6"/><rect x="863.4" y="211.5" width="1.3" height="1.3" fill="#a6a6a6"/><rect x="867.4" y="207.8" width="1.3" height="1.3" fill="#a6a6a6"/><rect x="862.9" y="214.0" width="1.3" height="1.3" fill="#a6a6a6"/><rect x="863.4" y="208.7" width="1.3" height="1.3" fill="#a6a6a6"/><rect x="866.6" y="207.0" width="1.3" height="1.3" fill="#a6a6a6"/><rect x="863.9" y="205.9" width="1.3" height="1.3" fill="#a6a6a6"/><rect x="871.3" y="206.4" width="1.3" height="1.3" fill="#a6a6a6"/><rect x="868.0" y="210.2" width="1.3" height="1.3" fill="#a6a6a6"/><rect x="861.8" y="214.5" width="1.3" height="1.3" fill="#a6a6a6"/><rect x="870.4" y="207.8" width="1.3" height="1.3" fill="#a6a6a6"/><rect x="860.0" y="212.7" width="1.3" height="1.3" fill="#a6a6a6"/><rect x="861.7" y="200.1" width="1.3" height="1.3" fill="#a6a6a6"/><rect x="856.0" y="199.3" width="1.3" height="1.3" fill="#a6a6a6"/><rect x="868.1" y="199.3" width="1.3" height="1.3" fill="#a6a6a6"/><rect x="867.4" y="211.7" width="1.3" height="1.3" fill="#a6a6a6"/><rect x="868.9" y="200.7" width="1.3" height="1.3" fill="#a6a6a6"/><rect x="858.5" y="209.6" width="1.3" height="1.3" fill="#a6a6a6"/><rect x="867.0" y="213.4" width="1.3" height="1.3" fill="#a6a6a6"/><rect x="874.4" y="201.8" width="1.3" height="1.3" fill="#a6a6a6"/><rect x="863.0" y="205.0" width="1.3" height="1.3" fill="#a6a6a6"/><rect x="865.0" y="215.3" width="1.3" height="1.3" fill="#a6a6a6"/><rect x="861.5" y="200.8" width="1.3" height="1.3" fill="#a6a6a6"/><rect x="860.5" y="207.0" width="1.3" height="1.3" fill="#a6a6a6"/><rect x="858.7" y="201.4" width="1.3" height="1.3" fill="#a6a6a6"/><rect x="857.6" y="210.6" width="1.3" height="1.3" fill="#a6a6a6"/><rect x="862.3" y="207.7" width="1.3" height="1.3" fill="#a6a6a6"/><rect x="858.3" y="198.3" width="1.3" height="1.3" fill="#a6a6a6"/><rect x="863.5" y="208.9" width="1.3" height="1.3" fill="#a6a6a6"/><rect x="877.1" y="199.1" width="1.3" height="1.3" fill="#a6a6a6"/><rect x="868.2" y="211.8" width="1.3" height="1.3" fill="#a6a6a6"/><rect x="856.9" y="199.8" width="1.3" height="1.3" fill="#a6a6a6"/><rect x="871.4" y="198.7" width="1.3" height="1.3" fill="#a6a6a6"/><rect x="854.7" y="202.7" width="1.3" height="1.3" fill="#a6a6a6"/><rect x="871.3" y="205.4" width="1.3" height="1.3" fill="#a6a6a6"/><rect x="861.0" y="212.3" width="1.3" height="1.3" fill="#a6a6a6"/><rect x="840.5" y="160.6" width="1.5" height="1.5" fill="#2f7fd0"/><rect x="844.9" y="179.1" width="1.5" height="1.5" fill="#2f7fd0"/><rect x="858.1" y="157.9" width="1.5" height="1.5" fill="#2f7fd0"/><rect x="850.6" y="184.3" width="1.5" height="1.5" fill="#2f7fd0"/><rect x="840.1" y="157.2" width="1.5" height="1.5" fill="#2f7fd0"/><rect x="842.9" y="181.9" width="1.5" height="1.5" fill="#2f7fd0"/><rect x="841.7" y="157.7" width="1.5" height="1.5" fill="#2f7fd0"/><rect x="841.6" y="156.9" width="1.5" height="1.5" fill="#2f7fd0"/><rect x="852.3" y="174.0" width="1.5" height="1.5" fill="#2f7fd0"/><rect x="840.3" y="178.3" width="1.5" height="1.5" fill="#2f7fd0"/><rect x="856.7" y="165.8" width="1.5" height="1.5" fill="#2f7fd0"/><rect x="854.4" y="177.2" width="1.5" height="1.5" fill="#2f7fd0"/><rect x="856.0" y="158.8" width="1.5" height="1.5" fill="#2f7fd0"/><rect x="855.2" y="156.2" width="1.5" height="1.5" fill="#2f7fd0"/><rect x="853.0" y="167.7" width="1.5" height="1.5" fill="#2f7fd0"/><rect x="853.4" y="187.4" width="1.5" height="1.5" fill="#2f7fd0"/><rect x="855.7" y="176.0" width="1.5" height="1.5" fill="#2f7fd0"/><rect x="858.9" y="169.3" width="1.5" height="1.5" fill="#2f7fd0"/><rect x="859.0" y="165.0" width="1.5" height="1.5" fill="#2f7fd0"/><rect x="848.0" y="186.3" width="1.5" height="1.5" fill="#2f7fd0"/><rect x="849.6" y="162.3" width="1.5" height="1.5" fill="#2f7fd0"/><rect x="857.1" y="195.1" width="1.5" height="1.5" fill="#2f7fd0"/><rect x="850.4" y="190.0" width="1.5" height="1.5" fill="#2f7fd0"/><rect x="842.2" y="175.8" width="1.5" height="1.5" fill="#2f7fd0"/><rect x="848.9" y="171.3" width="1.5" height="1.5" fill="#2f7fd0"/><rect x="839.2" y="184.3" width="1.5" height="1.5" fill="#2f7fd0"/><rect x="842.2" y="169.1" width="1.5" height="1.5" fill="#2f7fd0"/><rect x="846.3" y="185.1" width="1.5" height="1.5" fill="#2f7fd0"/><rect x="852.2" y="171.8" width="1.5" height="1.5" fill="#2f7fd0"/><rect x="856.6" y="156.4" width="1.5" height="1.5" fill="#2f7fd0"/><rect x="844.1" y="157.1" width="1.5" height="1.5" fill="#2f7fd0"/><rect x="856.0" y="165.2" width="1.5" height="1.5" fill="#2f7fd0"/><rect x="842.1" y="157.7" width="1.5" height="1.5" fill="#2f7fd0"/><rect x="845.6" y="192.3" width="1.5" height="1.5" fill="#2f7fd0"/><rect x="854.3" y="166.4" width="1.5" height="1.5" fill="#2f7fd0"/><rect x="849.9" y="166.9" width="1.5" height="1.5" fill="#2f7fd0"/><rect x="850.2" y="160.9" width="1.5" height="1.5" fill="#2f7fd0"/><rect x="839.6" y="165.6" width="1.5" height="1.5" fill="#2f7fd0"/><rect x="848.1" y="196.8" width="1.5" height="1.5" fill="#2f7fd0"/><rect x="839.5" y="164.8" width="1.5" height="1.5" fill="#2f7fd0"/><rect x="852.0" y="167.6" width="1.5" height="1.5" fill="#2f7fd0"/><rect x="851.5" y="154.0" width="1.5" height="1.5" fill="#2f7fd0"/><rect x="849.0" y="174.9" width="1.5" height="1.5" fill="#2f7fd0"/><rect x="849.0" y="162.8" width="1.5" height="1.5" fill="#2f7fd0"/><rect x="853.9" y="154.2" width="1.5" height="1.5" fill="#2f7fd0"/><rect x="859.3" y="173.4" width="1.4" height="1.4" fill="#2f7fd0"/><rect x="860.7" y="172.1" width="1.4" height="1.4" fill="#2f7fd0"/><rect x="859.5" y="179.2" width="1.4" height="1.4" fill="#2f7fd0"/><rect x="856.7" y="186.8" width="1.4" height="1.4" fill="#2f7fd0"/><rect x="854.9" y="191.3" width="1.4" height="1.4" fill="#2f7fd0"/><rect x="853.1" y="190.3" width="1.4" height="1.4" fill="#2f7fd0"/><rect x="858.8" y="181.5" width="1.4" height="1.4" fill="#2f7fd0"/><rect x="859.2" y="197.6" width="1.4" height="1.4" fill="#2f7fd0"/><rect x="855.1" y="190.6" width="1.4" height="1.4" fill="#2f7fd0"/><rect x="858.0" y="172.2" width="1.4" height="1.4" fill="#2f7fd0"/><rect x="854.4" y="195.1" width="1.4" height="1.4" fill="#2f7fd0"/><rect x="853.6" y="190.8" width="1.4" height="1.4" fill="#2f7fd0"/><rect x="858.6" y="174.8" width="1.4" height="1.4" fill="#2f7fd0"/><rect x="854.9" y="184.6" width="1.4" height="1.4" fill="#2f7fd0"/><rect x="853.0" y="192.7" width="1.4" height="1.4" fill="#2f7fd0"/><rect x="853.9" y="186.8" width="1.4" height="1.4" fill="#2f7fd0"/><rect x="854.9" y="189.4" width="1.4" height="1.4" fill="#2f7fd0"/><rect x="860.6" y="177.2" width="1.4" height="1.4" fill="#2f7fd0"/><rect x="859.3" y="174.6" width="1.4" height="1.4" fill="#2f7fd0"/><rect x="857.6" y="173.8" width="1.4" height="1.4" fill="#2f7fd0"/><rect x="856.1" y="186.1" width="1.4" height="1.4" fill="#2f7fd0"/><rect x="855.3" y="187.9" width="1.4" height="1.4" fill="#2f7fd0"/><rect x="860.8" y="184.2" width="1.4" height="1.4" fill="#2f7fd0"/><rect x="853.8" y="192.5" width="1.4" height="1.4" fill="#2f7fd0"/><rect x="857.0" y="184.6" width="1.4" height="1.4" fill="#2f7fd0"/><rect x="860.3" y="188.8" width="1.4" height="1.4" fill="#2f7fd0"/><rect x="858.6" y="190.9" width="1.4" height="1.4" fill="#2f7fd0"/><rect x="859.8" y="173.0" width="1.4" height="1.4" fill="#2f7fd0"/><rect x="859.0" y="190.7" width="1.4" height="1.4" fill="#2f7fd0"/><rect x="852.1" y="191.0" width="1.4" height="1.4" fill="#2f7fd0"/><rect x="858.1" y="184.3" width="1.4" height="1.4" fill="#2f7fd0"/><rect x="856.1" y="183.9" width="1.4" height="1.4" fill="#2f7fd0"/><rect x="855.2" y="191.7" width="1.4" height="1.4" fill="#2f7fd0"/><rect x="860.2" y="188.4" width="1.4" height="1.4" fill="#2f7fd0"/><rect x="859.7" y="175.0" width="1.4" height="1.4" fill="#2f7fd0"/><rect x="858.1" y="191.1" width="1.4" height="1.4" fill="#2f7fd0"/><rect x="860.7" y="186.3" width="1.4" height="1.4" fill="#2f7fd0"/><rect x="859.9" y="172.6" width="1.4" height="1.4" fill="#2f7fd0"/><rect x="855.0" y="189.1" width="1.4" height="1.4" fill="#2f7fd0"/><rect x="858.4" y="189.2" width="1.4" height="1.4" fill="#2f7fd0"/><rect x="857.5" y="184.9" width="1.4" height="1.4" fill="#2f7fd0"/><rect x="860.0" y="183.6" width="1.4" height="1.4" fill="#2f7fd0"/><rect x="858.8" y="195.1" width="1.4" height="1.4" fill="#2f7fd0"/><rect x="850.7" y="197.4" width="1.4" height="1.4" fill="#2f7fd0"/><rect x="859.4" y="171.5" width="1.4" height="1.4" fill="#2f7fd0"/><rect x="851.5" y="193.1" width="1.4" height="1.4" fill="#2f7fd0"/><rect x="859.0" y="183.1" width="1.4" height="1.4" fill="#2f7fd0"/><rect x="856.4" y="176.7" width="1.4" height="1.4" fill="#2f7fd0"/><rect x="858.1" y="176.7" width="1.4" height="1.4" fill="#2f7fd0"/><rect x="858.6" y="174.8" width="1.4" height="1.4" fill="#2f7fd0"/><rect x="859.4" y="196.7" width="1.4" height="1.4" fill="#2f7fd0"/><rect x="855.9" y="193.1" width="1.4" height="1.4" fill="#2f7fd0"/><rect x="853.7" y="194.9" width="1.4" height="1.4" fill="#2f7fd0"/><rect x="856.4" y="177.2" width="1.4" height="1.4" fill="#2f7fd0"/><rect x="860.6" y="184.1" width="1.4" height="1.4" fill="#2f7fd0"/><rect x="859.3" y="171.1" width="1.4" height="1.4" fill="#2f7fd0"/><rect x="858.8" y="183.2" width="1.4" height="1.4" fill="#2f7fd0"/><rect x="859.4" y="174.8" width="1.4" height="1.4" fill="#2f7fd0"/><rect x="856.2" y="179.5" width="1.4" height="1.4" fill="#2f7fd0"/><rect x="858.5" y="171.0" width="1.4" height="1.4" fill="#2f7fd0"/><rect x="859.6" y="193.7" width="1.4" height="1.4" fill="#2f7fd0"/><rect x="853.4" y="196.0" width="1.4" height="1.4" fill="#2f7fd0"/><rect x="857.8" y="195.3" width="1.4" height="1.4" fill="#2f7fd0"/><rect x="858.5" y="181.0" width="1.4" height="1.4" fill="#2f7fd0"/><rect x="854.3" y="198.0" width="1.4" height="1.4" fill="#2f7fd0"/><rect x="858.3" y="180.7" width="1.4" height="1.4" fill="#2f7fd0"/><rect x="860.5" y="178.4" width="1.4" height="1.4" fill="#2f7fd0"/><rect x="857.6" y="173.7" width="1.4" height="1.4" fill="#2f7fd0"/><rect x="855.9" y="178.7" width="1.4" height="1.4" fill="#2f7fd0"/><rect x="859.5" y="177.7" width="1.4" height="1.4" fill="#2f7fd0"/><rect x="859.5" y="184.8" width="1.4" height="1.4" fill="#2f7fd0"/><rect x="855.1" y="181.1" width="1.4" height="1.4" fill="#2f7fd0"/><rect x="852.6" y="194.9" width="1.4" height="1.4" fill="#2f7fd0"/><rect x="853.4" y="188.0" width="1.4" height="1.4" fill="#2f7fd0"/><rect x="855.0" y="196.4" width="1.4" height="1.4" fill="#2f7fd0"/><rect x="860.4" y="190.4" width="1.4" height="1.4" fill="#2f7fd0"/><rect x="856.8" y="190.8" width="1.4" height="1.4" fill="#2f7fd0"/><rect x="855.0" y="191.3" width="1.4" height="1.4" fill="#2f7fd0"/><rect x="860.5" y="178.7" width="1.4" height="1.4" fill="#2f7fd0"/><rect x="859.5" y="196.0" width="1.4" height="1.4" fill="#2f7fd0"/><rect x="858.5" y="183.7" width="1.4" height="1.4" fill="#2f7fd0"/><rect x="856.8" y="179.0" width="1.4" height="1.4" fill="#2f7fd0"/><rect x="858.0" y="197.4" width="1.4" height="1.4" fill="#2f7fd0"/><rect x="858.3" y="188.7" width="1.4" height="1.4" fill="#2f7fd0"/><rect x="857.9" y="186.0" width="1.4" height="1.4" fill="#2f7fd0"/><rect x="860.1" y="175.5" width="1.4" height="1.4" fill="#2f7fd0"/><rect x="856.6" y="176.6" width="1.4" height="1.4" fill="#2f7fd0"/><rect x="859.3" y="184.4" width="1.4" height="1.4" fill="#2f7fd0"/><rect x="850.6" y="195.5" width="1.4" height="1.4" fill="#2f7fd0"/><rect x="859.9" y="183.1" width="1.4" height="1.4" fill="#2f7fd0"/><rect x="860.4" y="176.2" width="1.4" height="1.4" fill="#2f7fd0"/><rect x="860.3" y="180.2" width="1.4" height="1.4" fill="#2f7fd0"/><rect x="859.5" y="177.5" width="1.4" height="1.4" fill="#2f7fd0"/><rect x="854.1" y="186.4" width="1.4" height="1.4" fill="#2f7fd0"/><rect x="857.1" y="191.2" width="1.4" height="1.4" fill="#2f7fd0"/><rect x="857.5" y="182.2" width="1.4" height="1.4" fill="#2f7fd0"/><rect x="858.8" y="181.2" width="1.4" height="1.4" fill="#2f7fd0"/><rect x="859.8" y="172.7" width="1.4" height="1.4" fill="#2f7fd0"/><rect x="859.4" y="197.1" width="1.4" height="1.4" fill="#2f7fd0"/><rect x="856.4" y="184.6" width="1.4" height="1.4" fill="#2f7fd0"/><rect x="858.7" y="194.3" width="1.4" height="1.4" fill="#2f7fd0"/><rect x="859.5" y="178.3" width="1.4" height="1.4" fill="#2f7fd0"/><rect x="858.0" y="181.8" width="1.4" height="1.4" fill="#2f7fd0"/><rect x="851.8" y="196.8" width="1.4" height="1.4" fill="#2f7fd0"/><rect x="860.6" y="194.6" width="1.4" height="1.4" fill="#2f7fd0"/><rect x="858.5" y="171.9" width="1.4" height="1.4" fill="#2f7fd0"/><rect x="856.0" y="195.2" width="1.4" height="1.4" fill="#2f7fd0"/><rect x="860.8" y="186.9" width="1.4" height="1.4" fill="#2f7fd0"/><rect x="855.1" y="181.6" width="1.4" height="1.4" fill="#2f7fd0"/><rect x="852.6" y="193.3" width="1.4" height="1.4" fill="#2f7fd0"/><rect x="858.1" y="197.3" width="1.4" height="1.4" fill="#2f7fd0"/><rect x="860.2" y="173.9" width="1.4" height="1.4" fill="#2f7fd0"/><rect x="855.9" y="185.1" width="1.4" height="1.4" fill="#2f7fd0"/><rect x="853.2" y="196.4" width="1.4" height="1.4" fill="#2f7fd0"/><rect x="854.5" y="188.5" width="1.4" height="1.4" fill="#2f7fd0"/><rect x="857.1" y="183.3" width="1.4" height="1.4" fill="#2f7fd0"/><rect x="858.2" y="172.1" width="1.4" height="1.4" fill="#2f7fd0"/><rect x="856.3" y="177.3" width="1.4" height="1.4" fill="#2f7fd0"/><rect x="858.3" y="188.4" width="1.4" height="1.4" fill="#2f7fd0"/><rect x="859.8" y="174.5" width="1.4" height="1.4" fill="#2f7fd0"/><rect x="855.1" y="188.2" width="1.4" height="1.4" fill="#2f7fd0"/><rect x="860.5" y="174.0" width="1.4" height="1.4" fill="#2f7fd0"/><rect x="856.6" y="185.2" width="1.4" height="1.4" fill="#2f7fd0"/><rect x="859.4" y="181.5" width="1.4" height="1.4" fill="#2f7fd0"/><rect x="860.7" y="187.2" width="1.4" height="1.4" fill="#2f7fd0"/><rect x="858.3" y="179.1" width="1.4" height="1.4" fill="#2f7fd0"/><rect x="853.9" y="196.9" width="1.4" height="1.4" fill="#2f7fd0"/><rect x="856.0" y="194.9" width="1.4" height="1.4" fill="#2f7fd0"/><rect x="859.6" y="177.3" width="1.4" height="1.4" fill="#2f7fd0"/><rect x="853.3" y="196.9" width="1.4" height="1.4" fill="#2f7fd0"/><rect x="860.7" y="179.3" width="1.4" height="1.4" fill="#2f7fd0"/><rect x="856.1" y="184.5" width="1.4" height="1.4" fill="#2f7fd0"/><rect x="859.2" y="182.3" width="1.4" height="1.4" fill="#2f7fd0"/><rect x="853.1" y="189.0" width="1.4" height="1.4" fill="#2f7fd0"/><rect x="860.6" y="177.1" width="1.4" height="1.4" fill="#2f7fd0"/><rect x="858.4" y="180.1" width="1.4" height="1.4" fill="#2f7fd0"/><rect x="859.1" y="189.4" width="1.4" height="1.4" fill="#2f7fd0"/><rect x="853.9" y="192.5" width="1.4" height="1.4" fill="#2f7fd0"/><rect x="859.4" y="184.6" width="1.4" height="1.4" fill="#2f7fd0"/><rect x="857.4" y="197.2" width="1.4" height="1.4" fill="#2f7fd0"/><rect x="858.6" y="193.1" width="1.4" height="1.4" fill="#2f7fd0"/><rect x="857.2" y="177.0" width="1.4" height="1.4" fill="#2f7fd0"/><rect x="855.7" y="179.0" width="1.4" height="1.4" fill="#2f7fd0"/><rect x="859.5" y="184.4" width="1.4" height="1.4" fill="#2f7fd0"/><rect x="858.8" y="177.0" width="1.4" height="1.4" fill="#2f7fd0"/><rect x="852.9" y="189.0" width="1.4" height="1.4" fill="#2f7fd0"/><rect x="859.2" y="175.0" width="1.4" height="1.4" fill="#2f7fd0"/><rect x="856.2" y="176.7" width="1.4" height="1.4" fill="#2f7fd0"/><rect x="860.6" y="174.8" width="1.4" height="1.4" fill="#2f7fd0"/><rect x="859.4" y="172.6" width="1.4" height="1.4" fill="#2f7fd0"/><rect x="885.4" y="193.5" width="1.5" height="1.5" fill="#c9302c"/><rect x="887.7" y="186.2" width="1.5" height="1.5" fill="#c9302c"/><rect x="874.0" y="195.0" width="1.5" height="1.5" fill="#c9302c"/><rect x="886.5" y="162.2" width="1.5" height="1.5" fill="#c9302c"/><rect x="868.0" y="186.8" width="1.5" height="1.5" fill="#c9302c"/><rect x="875.1" y="183.2" width="1.5" height="1.5" fill="#c9302c"/><rect x="874.1" y="170.5" width="1.5" height="1.5" fill="#c9302c"/><rect x="867.4" y="161.4" width="1.5" height="1.5" fill="#c9302c"/><rect x="874.5" y="166.3" width="1.5" height="1.5" fill="#c9302c"/><rect x="869.8" y="196.0" width="1.5" height="1.5" fill="#c9302c"/><rect x="871.6" y="196.4" width="1.5" height="1.5" fill="#c9302c"/><rect x="884.1" y="169.7" width="1.5" height="1.5" fill="#c9302c"/><rect x="876.2" y="190.2" width="1.5" height="1.5" fill="#c9302c"/><rect x="877.0" y="156.2" width="1.5" height="1.5" fill="#c9302c"/><rect x="886.1" y="170.4" width="1.5" height="1.5" fill="#c9302c"/><rect x="874.8" y="162.5" width="1.5" height="1.5" fill="#c9302c"/><rect x="867.9" y="193.5" width="1.5" height="1.5" fill="#c9302c"/><rect x="883.9" y="172.1" width="1.5" height="1.5" fill="#c9302c"/><rect x="868.1" y="187.7" width="1.5" height="1.5" fill="#c9302c"/><rect x="868.6" y="155.5" width="1.5" height="1.5" fill="#c9302c"/><rect x="872.6" y="194.5" width="1.5" height="1.5" fill="#c9302c"/><rect x="885.7" y="186.9" width="1.5" height="1.5" fill="#c9302c"/><rect x="872.9" y="168.9" width="1.5" height="1.5" fill="#c9302c"/><rect x="879.9" y="196.1" width="1.5" height="1.5" fill="#c9302c"/><rect x="882.0" y="165.5" width="1.5" height="1.5" fill="#c9302c"/><rect x="873.0" y="167.9" width="1.5" height="1.5" fill="#c9302c"/><rect x="882.8" y="154.2" width="1.5" height="1.5" fill="#c9302c"/><rect x="880.3" y="194.3" width="1.5" height="1.5" fill="#c9302c"/><rect x="867.8" y="195.5" width="1.5" height="1.5" fill="#c9302c"/><rect x="877.0" y="164.3" width="1.5" height="1.5" fill="#c9302c"/><rect x="886.9" y="196.1" width="1.5" height="1.5" fill="#c9302c"/><rect x="872.4" y="171.0" width="1.5" height="1.5" fill="#c9302c"/><rect x="877.4" y="172.9" width="1.5" height="1.5" fill="#c9302c"/><rect x="871.1" y="194.8" width="1.5" height="1.5" fill="#c9302c"/><rect x="882.4" y="189.3" width="1.5" height="1.5" fill="#c9302c"/><rect x="883.1" y="190.2" width="1.5" height="1.5" fill="#c9302c"/><rect x="874.0" y="180.7" width="1.5" height="1.5" fill="#c9302c"/><rect x="874.7" y="168.1" width="1.5" height="1.5" fill="#c9302c"/><rect x="868.9" y="188.4" width="1.5" height="1.5" fill="#c9302c"/><rect x="882.7" y="162.7" width="1.5" height="1.5" fill="#c9302c"/><rect x="868.6" y="164.9" width="1.5" height="1.5" fill="#c9302c"/><rect x="878.6" y="155.5" width="1.5" height="1.5" fill="#c9302c"/><rect x="887.4" y="168.3" width="1.5" height="1.5" fill="#c9302c"/><rect x="887.6" y="192.9" width="1.5" height="1.5" fill="#c9302c"/><rect x="869.0" y="165.7" width="1.5" height="1.5" fill="#c9302c"/><rect x="867.7" y="173.6" width="1.4" height="1.4" fill="#c9302c"/><rect x="869.7" y="190.2" width="1.4" height="1.4" fill="#c9302c"/><rect x="867.8" y="177.3" width="1.4" height="1.4" fill="#c9302c"/><rect x="871.2" y="187.7" width="1.4" height="1.4" fill="#c9302c"/><rect x="873.4" y="191.2" width="1.4" height="1.4" fill="#c9302c"/><rect x="866.8" y="188.9" width="1.4" height="1.4" fill="#c9302c"/><rect x="868.7" y="193.7" width="1.4" height="1.4" fill="#c9302c"/><rect x="868.6" y="186.3" width="1.4" height="1.4" fill="#c9302c"/><rect x="867.6" y="190.9" width="1.4" height="1.4" fill="#c9302c"/><rect x="867.0" y="177.7" width="1.4" height="1.4" fill="#c9302c"/><rect x="869.5" y="175.1" width="1.4" height="1.4" fill="#c9302c"/><rect x="868.3" y="186.6" width="1.4" height="1.4" fill="#c9302c"/><rect x="871.9" y="181.7" width="1.4" height="1.4" fill="#c9302c"/><rect x="867.4" y="184.7" width="1.4" height="1.4" fill="#c9302c"/><rect x="872.0" y="192.8" width="1.4" height="1.4" fill="#c9302c"/><rect x="866.9" y="197.8" width="1.4" height="1.4" fill="#c9302c"/><rect x="871.4" y="183.8" width="1.4" height="1.4" fill="#c9302c"/><rect x="874.7" y="193.7" width="1.4" height="1.4" fill="#c9302c"/><rect x="866.8" y="172.1" width="1.4" height="1.4" fill="#c9302c"/><rect x="866.5" y="174.2" width="1.4" height="1.4" fill="#c9302c"/><rect x="872.1" y="197.3" width="1.4" height="1.4" fill="#c9302c"/><rect x="869.7" y="196.1" width="1.4" height="1.4" fill="#c9302c"/><rect x="870.3" y="194.4" width="1.4" height="1.4" fill="#c9302c"/><rect x="869.8" y="178.0" width="1.4" height="1.4" fill="#c9302c"/><rect x="866.9" y="196.5" width="1.4" height="1.4" fill="#c9302c"/><rect x="870.6" y="187.1" width="1.4" height="1.4" fill="#c9302c"/><rect x="867.5" y="176.9" width="1.4" height="1.4" fill="#c9302c"/><rect x="866.6" y="174.8" width="1.4" height="1.4" fill="#c9302c"/><rect x="868.8" y="177.9" width="1.4" height="1.4" fill="#c9302c"/><rect x="867.5" y="188.6" width="1.4" height="1.4" fill="#c9302c"/><rect x="866.8" y="171.3" width="1.4" height="1.4" fill="#c9302c"/><rect x="867.4" y="189.3" width="1.4" height="1.4" fill="#c9302c"/><rect x="866.9" y="179.4" width="1.4" height="1.4" fill="#c9302c"/><rect x="870.9" y="192.5" width="1.4" height="1.4" fill="#c9302c"/><rect x="866.2" y="172.7" width="1.4" height="1.4" fill="#c9302c"/><rect x="869.2" y="181.7" width="1.4" height="1.4" fill="#c9302c"/><rect x="866.5" y="188.3" width="1.4" height="1.4" fill="#c9302c"/><rect x="868.8" y="175.4" width="1.4" height="1.4" fill="#c9302c"/><rect x="867.6" y="182.1" width="1.4" height="1.4" fill="#c9302c"/><rect x="871.0" y="179.3" width="1.4" height="1.4" fill="#c9302c"/><rect x="868.9" y="179.4" width="1.4" height="1.4" fill="#c9302c"/><rect x="868.2" y="180.6" width="1.4" height="1.4" fill="#c9302c"/><rect x="875.7" y="194.3" width="1.4" height="1.4" fill="#c9302c"/><rect x="867.0" y="180.8" width="1.4" height="1.4" fill="#c9302c"/><rect x="867.6" y="190.7" width="1.4" height="1.4" fill="#c9302c"/><rect x="868.5" y="171.2" width="1.4" height="1.4" fill="#c9302c"/><rect x="871.0" y="182.4" width="1.4" height="1.4" fill="#c9302c"/><rect x="871.3" y="182.0" width="1.4" height="1.4" fill="#c9302c"/><rect x="866.9" y="183.4" width="1.4" height="1.4" fill="#c9302c"/><rect x="867.5" y="171.4" width="1.4" height="1.4" fill="#c9302c"/><rect x="873.2" y="188.3" width="1.4" height="1.4" fill="#c9302c"/><rect x="868.1" y="173.4" width="1.4" height="1.4" fill="#c9302c"/><rect x="868.8" y="181.0" width="1.4" height="1.4" fill="#c9302c"/><rect x="867.0" y="174.9" width="1.4" height="1.4" fill="#c9302c"/><rect x="872.4" y="185.1" width="1.4" height="1.4" fill="#c9302c"/><rect x="867.7" y="173.9" width="1.4" height="1.4" fill="#c9302c"/><rect x="874.9" y="192.7" width="1.4" height="1.4" fill="#c9302c"/><rect x="866.4" y="176.3" width="1.4" height="1.4" fill="#c9302c"/><rect x="876.1" y="196.5" width="1.4" height="1.4" fill="#c9302c"/><rect x="866.2" y="184.0" width="1.4" height="1.4" fill="#c9302c"/><rect x="869.8" y="196.0" width="1.4" height="1.4" fill="#c9302c"/><rect x="872.1" y="195.4" width="1.4" height="1.4" fill="#c9302c"/><rect x="867.3" y="193.3" width="1.4" height="1.4" fill="#c9302c"/><rect x="867.9" y="192.2" width="1.4" height="1.4" fill="#c9302c"/><rect x="871.1" y="181.9" width="1.4" height="1.4" fill="#c9302c"/><rect x="867.6" y="193.4" width="1.4" height="1.4" fill="#c9302c"/><rect x="867.7" y="176.9" width="1.4" height="1.4" fill="#c9302c"/><rect x="868.5" y="185.0" width="1.4" height="1.4" fill="#c9302c"/><rect x="866.8" y="174.3" width="1.4" height="1.4" fill="#c9302c"/><rect x="873.7" y="190.6" width="1.4" height="1.4" fill="#c9302c"/><rect x="867.7" y="172.1" width="1.4" height="1.4" fill="#c9302c"/><rect x="866.1" y="191.5" width="1.4" height="1.4" fill="#c9302c"/><rect x="866.9" y="193.6" width="1.4" height="1.4" fill="#c9302c"/><rect x="870.1" y="187.2" width="1.4" height="1.4" fill="#c9302c"/><rect x="868.3" y="187.9" width="1.4" height="1.4" fill="#c9302c"/><rect x="869.5" y="182.3" width="1.4" height="1.4" fill="#c9302c"/><rect x="870.0" y="182.5" width="1.4" height="1.4" fill="#c9302c"/><rect x="868.7" y="183.1" width="1.4" height="1.4" fill="#c9302c"/><rect x="867.8" y="171.6" width="1.4" height="1.4" fill="#c9302c"/><rect x="867.4" y="184.2" width="1.4" height="1.4" fill="#c9302c"/><rect x="872.9" y="191.6" width="1.4" height="1.4" fill="#c9302c"/><rect x="867.0" y="183.4" width="1.4" height="1.4" fill="#c9302c"/><rect x="866.5" y="183.8" width="1.4" height="1.4" fill="#c9302c"/><rect x="867.5" y="174.5" width="1.4" height="1.4" fill="#c9302c"/><rect x="867.5" y="173.5" width="1.4" height="1.4" fill="#c9302c"/><rect x="866.1" y="184.8" width="1.4" height="1.4" fill="#c9302c"/><rect x="866.5" y="188.2" width="1.4" height="1.4" fill="#c9302c"/><rect x="872.7" y="190.8" width="1.4" height="1.4" fill="#c9302c"/><rect x="866.2" y="184.8" width="1.4" height="1.4" fill="#c9302c"/><rect x="868.5" y="184.6" width="1.4" height="1.4" fill="#c9302c"/><rect x="867.2" y="196.7" width="1.4" height="1.4" fill="#c9302c"/><rect x="875.6" y="194.1" width="1.4" height="1.4" fill="#c9302c"/><rect x="873.0" y="190.8" width="1.4" height="1.4" fill="#c9302c"/><rect x="870.3" y="176.2" width="1.4" height="1.4" fill="#c9302c"/><rect x="872.4" y="184.3" width="1.4" height="1.4" fill="#c9302c"/><rect x="867.5" y="195.7" width="1.4" height="1.4" fill="#c9302c"/><rect x="874.5" y="192.3" width="1.4" height="1.4" fill="#c9302c"/><rect x="867.0" y="172.8" width="1.4" height="1.4" fill="#c9302c"/><rect x="867.2" y="191.4" width="1.4" height="1.4" fill="#c9302c"/><rect x="868.6" y="195.2" width="1.4" height="1.4" fill="#c9302c"/><rect x="867.2" y="193.0" width="1.4" height="1.4" fill="#c9302c"/><rect x="872.3" y="184.6" width="1.4" height="1.4" fill="#c9302c"/><rect x="867.0" y="176.6" width="1.4" height="1.4" fill="#c9302c"/><rect x="868.0" y="184.7" width="1.4" height="1.4" fill="#c9302c"/><rect x="866.4" y="172.0" width="1.4" height="1.4" fill="#c9302c"/><rect x="869.8" y="175.4" width="1.4" height="1.4" fill="#c9302c"/><rect x="873.4" y="189.4" width="1.4" height="1.4" fill="#c9302c"/><rect x="869.2" y="175.6" width="1.4" height="1.4" fill="#c9302c"/><rect x="867.9" y="174.1" width="1.4" height="1.4" fill="#c9302c"/><rect x="868.7" y="188.2" width="1.4" height="1.4" fill="#c9302c"/><rect x="871.3" y="194.6" width="1.4" height="1.4" fill="#c9302c"/><rect x="872.5" y="186.7" width="1.4" height="1.4" fill="#c9302c"/><rect x="869.6" y="173.8" width="1.4" height="1.4" fill="#c9302c"/><rect x="869.0" y="188.0" width="1.4" height="1.4" fill="#c9302c"/><rect x="868.3" y="192.5" width="1.4" height="1.4" fill="#c9302c"/><rect x="872.1" y="197.7" width="1.4" height="1.4" fill="#c9302c"/><rect x="870.3" y="180.7" width="1.4" height="1.4" fill="#c9302c"/><rect x="867.0" y="182.9" width="1.4" height="1.4" fill="#c9302c"/><rect x="866.2" y="191.1" width="1.4" height="1.4" fill="#c9302c"/><rect x="868.2" y="193.1" width="1.4" height="1.4" fill="#c9302c"/><rect x="873.8" y="188.3" width="1.4" height="1.4" fill="#c9302c"/><rect x="870.9" y="186.8" width="1.4" height="1.4" fill="#c9302c"/><rect x="865.8" y="179.4" width="1.4" height="1.4" fill="#c9302c"/><rect x="866.3" y="171.9" width="1.4" height="1.4" fill="#c9302c"/><rect x="869.2" y="187.6" width="1.4" height="1.4" fill="#c9302c"/><rect x="872.2" y="184.8" width="1.4" height="1.4" fill="#c9302c"/><rect x="866.7" y="174.6" width="1.4" height="1.4" fill="#c9302c"/><rect x="866.0" y="188.6" width="1.4" height="1.4" fill="#c9302c"/><rect x="866.9" y="171.1" width="1.4" height="1.4" fill="#c9302c"/><rect x="867.2" y="173.9" width="1.4" height="1.4" fill="#c9302c"/><rect x="868.6" y="177.1" width="1.4" height="1.4" fill="#c9302c"/><rect x="867.4" y="186.9" width="1.4" height="1.4" fill="#c9302c"/><rect x="869.6" y="187.8" width="1.4" height="1.4" fill="#c9302c"/><rect x="869.6" y="174.6" width="1.4" height="1.4" fill="#c9302c"/><rect x="866.5" y="177.6" width="1.4" height="1.4" fill="#c9302c"/><rect x="868.2" y="173.6" width="1.4" height="1.4" fill="#c9302c"/><rect x="873.6" y="194.5" width="1.4" height="1.4" fill="#c9302c"/><rect x="867.4" y="181.9" width="1.4" height="1.4" fill="#c9302c"/><rect x="867.8" y="171.3" width="1.4" height="1.4" fill="#c9302c"/><rect x="868.4" y="186.2" width="1.4" height="1.4" fill="#c9302c"/><rect x="869.4" y="188.4" width="1.4" height="1.4" fill="#c9302c"/><rect x="873.5" y="196.3" width="1.4" height="1.4" fill="#c9302c"/><rect x="870.3" y="177.7" width="1.4" height="1.4" fill="#c9302c"/><rect x="867.6" y="172.2" width="1.4" height="1.4" fill="#c9302c"/><rect x="867.3" y="182.0" width="1.4" height="1.4" fill="#c9302c"/><rect x="868.5" y="172.6" width="1.4" height="1.4" fill="#c9302c"/><rect x="867.5" y="171.3" width="1.4" height="1.4" fill="#c9302c"/><rect x="867.3" y="196.4" width="1.4" height="1.4" fill="#c9302c"/><rect x="868.6" y="176.4" width="1.4" height="1.4" fill="#c9302c"/><rect x="870.3" y="184.7" width="1.4" height="1.4" fill="#c9302c"/></g>
<g>
<path d="M741.2,241 V304.5 H808" fill="none" stroke="#333" stroke-width="1.5"/>
<path d="M741.2,237.3 L738.6,242.5 L743.8,242.5 Z M811.5,304.5 L806,301.8 L806,307.2 Z" fill="#333"/>
<path d="M746.2,296.7 L810.5,244.6" stroke="#6cc468" stroke-width="0.9" stroke-dasharray="2.5,1"/>
<g fill="#3aaa35">
<circle cx="748.7" cy="293.5" r="2"/><circle cx="754.4" cy="271.6" r="2"/><circle cx="768.4" cy="274.7" r="2"/>
<circle cx="776.6" cy="253.1" r="2"/><circle cx="780" cy="289.8" r="2"/><circle cx="792.3" cy="272.5" r="2"/>
<circle cx="804" cy="265.7" r="2"/><circle cx="804.8" cy="249" r="2"/></g>
</g>
<ellipse cx="860.2" cy="263" rx="28" ry="27.2" fill="none" stroke="#7030a0" stroke-width="3"/>
<ellipse cx="890.2" cy="261.6" rx="25.8" ry="27" fill="none" stroke="#c00000" stroke-width="3"/>
<g stroke="#7f7f7f" stroke-width="3.2"><line x1="107.4" y1="475.4" x2="177" y2="487.9"/><line x1="107.4" y1="475.4" x2="97.3" y2="534.4"/><line x1="107.4" y1="475.4" x2="135.7" y2="546.2"/><line x1="153.9" y1="455.3" x2="177" y2="487.9"/><line x1="189.5" y1="451.1" x2="177" y2="487.9"/><line x1="177" y1="487.9" x2="210" y2="475.4"/><line x1="177" y1="487.9" x2="269" y2="506.8"/><line x1="177" y1="487.9" x2="135.7" y2="546.2"/><line x1="177" y1="487.9" x2="165.2" y2="578.7"/><line x1="177" y1="487.9" x2="206.5" y2="525.4"/><line x1="210" y1="475.4" x2="269" y2="506.8"/><line x1="210" y1="475.4" x2="214.1" y2="578"/><line x1="273.8" y1="458.9" x2="269" y2="506.8"/><line x1="300.2" y1="476.6" x2="269" y2="506.8"/><line x1="135.7" y1="546.2" x2="269" y2="506.8"/><line x1="234.1" y1="535.6" x2="269" y2="506.8"/><line x1="269" y1="506.8" x2="283.2" y2="549"/><line x1="269" y1="506.8" x2="252.5" y2="572.6"/><line x1="206.5" y1="525.4" x2="188.8" y2="543.4"/><line x1="188.8" y1="543.4" x2="214.1" y2="578"/><line x1="135.7" y1="546.2" x2="165.2" y2="578.7"/><line x1="135.7" y1="546.2" x2="125.1" y2="592.2"/><line x1="165.2" y1="578.7" x2="214.1" y2="578"/><line x1="214.1" y1="578" x2="252.5" y2="572.6"/><line x1="252.5" y1="572.6" x2="283.2" y2="549"/><line x1="283.2" y1="549" x2="304.4" y2="517.2"/><line x1="252.5" y1="572.6" x2="243.1" y2="606.4"/></g>
<g><circle cx="107.4" cy="475.4" r="10" fill="#bfbfbf"/><circle cx="153.9" cy="455.3" r="5.7" fill="#bfbfbf"/><circle cx="189.5" cy="451.1" r="5.7" fill="#bfbfbf"/><circle cx="273.8" cy="458.9" r="10" fill="#bfbfbf"/><circle cx="300.2" cy="476.6" r="5.5" fill="#bfbfbf"/><circle cx="97.3" cy="534.4" r="5.5" fill="#bfbfbf"/><circle cx="206.5" cy="525.4" r="5.5" fill="#bfbfbf"/><circle cx="234.1" cy="535.6" r="5.5" fill="#bfbfbf"/><circle cx="304.4" cy="517.2" r="5.5" fill="#bfbfbf"/><circle cx="283.2" cy="549" r="5.5" fill="#bfbfbf"/><circle cx="252.5" cy="572.6" r="10" fill="#bfbfbf"/><circle cx="125.1" cy="592.2" r="5.5" fill="#bfbfbf"/><circle cx="243.1" cy="606.4" r="10" fill="#bfbfbf"/><ellipse cx="177" cy="487.9" rx="15.3" ry="17.7" fill="#f8cbad"/><ellipse cx="177" cy="487.9" rx="7.6" ry="9.9" fill="#ed7d31"/><ellipse cx="269" cy="506.8" rx="20" ry="22.4" fill="#f8cbad"/><ellipse cx="269" cy="506.8" rx="12.3" ry="14.9" fill="#ed7d31"/><ellipse cx="165.2" cy="578.7" rx="15.3" ry="17.7" fill="#f8cbad"/><ellipse cx="165.2" cy="578.7" rx="7.6" ry="9.9" fill="#ed7d31"/><ellipse cx="135.7" cy="546.2" rx="17.2" ry="18.9" fill="#00b0f0"/><ellipse cx="135.7" cy="546.2" rx="9.4" ry="11.3" fill="#7030a0"/><ellipse cx="210" cy="475.4" rx="7.1" ry="8.3" fill="#00b0f0"/><ellipse cx="210" cy="475.4" rx="4.2" ry="5" fill="#7030a0"/><ellipse cx="188.8" cy="543.4" rx="7.1" ry="8.3" fill="#00b0f0"/><ellipse cx="188.8" cy="543.4" rx="4.2" ry="5" fill="#7030a0"/><ellipse cx="214.1" cy="578" rx="7.1" ry="8.3" fill="#00b0f0"/><ellipse cx="214.1" cy="578" rx="4.2" ry="5" fill="#7030a0"/></g>
<g><ellipse cx="381" cy="469.4" rx="13.7" ry="13.1" fill="#7030a0" stroke="#000" stroke-width="2.9"/><ellipse cx="381" cy="498.3" rx="13.7" ry="13.1" fill="#ff0000" stroke="#000" stroke-width="2.9"/><ellipse cx="381" cy="526.8" rx="13.7" ry="13.1" fill="#00ffff" stroke="#000" stroke-width="2.9"/><ellipse cx="381" cy="555.6" rx="13.7" ry="13.1" fill="#0000ff" stroke="#000" stroke-width="2.9"/><ellipse cx="381" cy="585.4" rx="13.7" ry="13.1" fill="#ffc000" stroke="#000" stroke-width="2.9"/><ellipse cx="423.8" cy="469.4" rx="13.7" ry="13.1" fill="#00ffff" stroke="#000" stroke-width="2.9"/><ellipse cx="423.8" cy="498.3" rx="13.7" ry="13.1" fill="#0000ff" stroke="#000" stroke-width="2.9"/><ellipse cx="423.8" cy="526.8" rx="13.7" ry="13.1" fill="#ff0000" stroke="#000" stroke-width="2.9"/><ellipse cx="423.8" cy="555.6" rx="15" ry="14.4" fill="#7030a0"/><ellipse cx="423.8" cy="585.4" rx="13.7" ry="13.1" fill="#ffc000" stroke="#000" stroke-width="2.9"/><ellipse cx="485.8" cy="469.4" rx="13.7" ry="13.1" fill="#00ffff" stroke="#000" stroke-width="2.9"/><ellipse cx="485.8" cy="498.3" rx="15" ry="14.4" fill="#7030a0"/><ellipse cx="485.8" cy="526.8" rx="13.7" ry="13.1" fill="#0000ff" stroke="#000" stroke-width="2.9"/><ellipse cx="485.8" cy="555.6" rx="13.7" ry="13.1" fill="#ff0000" stroke="#000" stroke-width="2.9"/><ellipse cx="485.8" cy="585.4" rx="13.7" ry="13.1" fill="#ffc000" stroke="#000" stroke-width="2.9"/><ellipse cx="555.2" cy="469.4" rx="13.7" ry="13.1" fill="#00ffff" stroke="#000" stroke-width="2.9"/><ellipse cx="555.2" cy="498.3" rx="15" ry="14.4" fill="#7030a0"/><ellipse cx="555.2" cy="526.8" rx="13.7" ry="13.1" fill="#0000ff" stroke="#000" stroke-width="2.9"/><ellipse cx="555.2" cy="555.6" rx="13.7" ry="13.1" fill="#ff0000" stroke="#000" stroke-width="2.9"/><ellipse cx="555.2" cy="585.4" rx="13.7" ry="13.1" fill="#ffc000" stroke="#000" stroke-width="2.9"/></g>
<g fill="#000"><circle cx="450" cy="478" r="1.35"/><circle cx="456.5" cy="478" r="1.35"/><circle cx="463" cy="478" r="1.35"/><circle cx="450" cy="569.3" r="1.35"/><circle cx="456.5" cy="569.3" r="1.35"/><circle cx="463" cy="569.3" r="1.35"/></g>
<path d="M506.4,521.8 H524 V514 L537.5,526.8 L524,539.6 V531.8 H506.4 Z" fill="#c00000"/>
<path d="M593.5,479.5 V570" stroke="#000" stroke-width="1.5"/><path d="M593.5,579 L589,568 L598,568 Z" fill="#000"/>
<g><ellipse cx="816.3" cy="515.9" rx="26.7" ry="26.3" fill="#ffc000"/><circle cx="740.7" cy="455.1" r="16.6" fill="#808080"/><ellipse cx="884.9" cy="453.7" rx="22" ry="20.8" fill="#cc3300"/><circle cx="925.2" cy="549.8" r="16.6" fill="#808080"/><ellipse cx="734.4" cy="579.3" rx="22" ry="20.8" fill="#cc3300"/><circle cx="847.9" cy="605.5" r="16.6" fill="#808080"/></g>
<g><line x1="796.0" y1="496.5" x2="760.2" y2="472.3" stroke="#000" stroke-width="2.3"/><path d="M752.3,467.0 L762.6,468.7 L757.7,476.0 Z" fill="#000"/><line x1="835.2" y1="496.5" x2="862.6" y2="474.3" stroke="#000" stroke-width="2.3"/><path d="M870.0,468.3 L865.4,477.7 L859.8,470.9 Z" fill="#000"/><line x1="899.0" y1="468.3" x2="913.0" y2="528.6" stroke="#000" stroke-width="2.3"/><path d="M915.2,537.9 L908.8,529.6 L917.3,527.6 Z" fill="#000"/><line x1="842.9" y1="522.7" x2="900.9" y2="546.0" stroke="#000" stroke-width="2.3"/><path d="M909.7,549.5 L899.2,550.0 L902.5,541.9 Z" fill="#000"/><line x1="796.5" y1="535.0" x2="761.7" y2="560.4" stroke="#000" stroke-width="2.3"/><path d="M754.0,566.0 L759.1,556.8 L764.3,564.0 Z" fill="#000"/><line x1="835.2" y1="535.0" x2="841.6" y2="580.4" stroke="#000" stroke-width="2.3"/><path d="M842.9,589.8 L837.2,581.0 L845.9,579.8 Z" fill="#000"/><line x1="754.0" y1="594.5" x2="822.4" y2="604.2" stroke="#000" stroke-width="2.3"/><path d="M831.8,605.5 L821.8,608.5 L823.0,599.8 Z" fill="#000"/></g>
<path d="M66.8,680 V691.7" stroke="#c8c8c8" stroke-width="1"/>
<g><circle cx="113" cy="723.7" r="14.6" fill="none" stroke="#3c3c3c" stroke-width="3"/><path d="M113.0,709.1 A14.6,14.6 0 0 1 127.5,721.7" fill="none" stroke="#e06570" stroke-width="3.4"/><path d="M123.4,722.2 L131.8,722.2 L127.6,727.7 Z" fill="#e06570"/><circle cx="81.7" cy="747" r="14.6" fill="none" stroke="#3c3c3c" stroke-width="3"/><path d="M81.7,732.4 A14.6,14.6 0 0 1 96.2,745.0" fill="none" stroke="#6cbf50" stroke-width="3.4"/><path d="M92.1,745.5 L100.5,745.5 L96.3,751.0 Z" fill="#6cbf50"/><circle cx="146" cy="741.7" r="14.6" fill="none" stroke="#3c3c3c" stroke-width="3"/><path d="M146.0,727.1 A14.6,14.6 0 0 1 160.5,739.7" fill="none" stroke="#e5a84a" stroke-width="3.4"/><path d="M156.4,740.2 L164.8,740.2 L160.6,745.7 Z" fill="#e5a84a"/><circle cx="113" cy="769.5" r="14.6" fill="none" stroke="#3c3c3c" stroke-width="3"/><path d="M113.0,754.9 A14.6,14.6 0 0 1 127.5,767.5" fill="none" stroke="#4a85b5" stroke-width="3.4"/><path d="M123.4,768.0 L131.8,768.0 L127.6,773.5 Z" fill="#4a85b5"/></g>
<path d="M169,747 C188,749 204,764 208,782" fill="none" stroke="#222" stroke-width="1.4"/><path d="M209.6,790.5 L203.5,780.5 L213,779.5 Z" fill="#222"/>
<path d="M217,815 L218,839 C219.5,868 255,885 297.3,885 C340,885 376,868 377.7,839 L377.7,815" fill="#f4e7dd" stroke="#b0b0b0" stroke-width="1.1"/><ellipse cx="297.3" cy="838.5" rx="80" ry="46.5" fill="#f4e7dd" stroke="#c8c8c8" stroke-width="0.8"/><ellipse cx="297.3" cy="814.8" rx="80.3" ry="46.4" fill="#e3ebf1" stroke="#a9a9a9" stroke-width="1.1"/><ellipse cx="297.6" cy="822.2" rx="78" ry="36.2" fill="#f6eee6" stroke="#eddccd" stroke-width="3"/><ellipse cx="297.6" cy="822.2" rx="79.5" ry="37.7" fill="none" stroke="#cdbcae" stroke-width="0.7"/><ellipse cx="297.3" cy="812" rx="78.5" ry="44" fill="none" stroke="#c9c9c9" stroke-width="0.7"/><path d="M217.5,818 C219,846 255,861.2 297.3,861.2 C340,861.2 376,846 377.2,818" fill="none" stroke="#b0b0b0" stroke-width="1"/>
<g><path d="M272.2,803.5 L264.4,806.4 L261.2,810.9 L255.0,807.2 L245.6,805.7 L253.3,802.7 L256.5,798.3 L262.7,802.0Z" fill="#66bf66" stroke="#eef6e4" stroke-width="1.1" stroke-linejoin="round"/><ellipse cx="280.222882615156" cy="806.4338781575037" rx="8.399999999999999" ry="4.32" fill="#6cc36c" stroke="#eef6e4" stroke-width="1"/><ellipse cx="280.222882615156" cy="806.4338781575037" rx="4.199999999999999" ry="2.16" fill="#58a95a"/><ellipse cx="290.43833580980686" cy="800.8618127786033" rx="13.0" ry="2.9" fill="#66bf66" stroke="#eef6e4" stroke-width="1" transform="rotate(20 290.43833580980686 800.8618127786033)"/><path d="M333.2,806.2 L323.5,807.3 L316.7,810.8 L314.3,806.2 L307.1,802.9 L316.8,801.8 L323.7,798.4 L326.0,803.0Z" fill="#66bf66" stroke="#eef6e4" stroke-width="1.1" stroke-linejoin="round"/><ellipse cx="258.8632986627043" cy="812.9346210995542" rx="15.600000000000001" ry="3.19" fill="#66bf66" stroke="#eef6e4" stroke-width="1" transform="rotate(-5 258.8632986627043 812.9346210995542)"/><path d="M319.1,810.0 L310.5,812.9 L307.0,817.4 L300.1,813.7 L289.6,812.2 L298.2,809.2 L301.8,804.8 L308.7,808.5Z" fill="#66bf66" stroke="#eef6e4" stroke-width="1.1" stroke-linejoin="round"/><ellipse cx="350.80237741456165" cy="813.8632986627043" rx="9.1" ry="4.56" fill="#6cc36c" stroke="#eef6e4" stroke-width="1"/><ellipse cx="350.80237741456165" cy="813.8632986627043" rx="4.55" ry="2.28" fill="#58a95a"/><ellipse cx="244.00445765230313" cy="818.5066864784546" rx="8.399999999999999" ry="4.32" fill="#6cc36c" stroke="#eef6e4" stroke-width="1"/><ellipse cx="244.00445765230313" cy="818.5066864784546" rx="4.199999999999999" ry="2.16" fill="#58a95a"/><path d="M280.4,817.2 L273.1,820.8 L271.4,825.4 L263.1,822.3 L252.2,821.6 L259.5,818.1 L261.2,813.4 L269.5,816.5Z" fill="#66bf66" stroke="#eef6e4" stroke-width="1.1" stroke-linejoin="round"/><ellipse cx="316.4413075780089" cy="815.7206537890045" rx="13.0" ry="3.19" fill="#66bf66" stroke="#eef6e4" stroke-width="1" transform="rotate(-15 316.4413075780089 815.7206537890045)"/><ellipse cx="289.5096582466567" cy="819.4353640416048" rx="8.399999999999999" ry="4.56" fill="#6cc36c" stroke="#eef6e4" stroke-width="1"/><ellipse cx="289.5096582466567" cy="819.4353640416048" rx="4.199999999999999" ry="2.28" fill="#58a95a"/><ellipse cx="343.37295690936105" cy="822.2213967310549" rx="13.0" ry="3.19" fill="#66bf66" stroke="#eef6e4" stroke-width="1" transform="rotate(20 343.37295690936105 822.2213967310549)"/><ellipse cx="238.43239227340268" cy="825.3789004457652" rx="15.600000000000001" ry="2.9" fill="#66bf66" stroke="#eef6e4" stroke-width="1" transform="rotate(5 238.43239227340268 825.3789004457652)"/><path d="M316.6,824.1 L306.9,826.1 L301.6,829.8 L296.3,826.1 L286.6,824.1 L296.3,822.0 L301.6,818.3 L306.9,822.0Z" fill="#66bf66" stroke="#eef6e4" stroke-width="1.1" stroke-linejoin="round"/><ellipse cx="271.86478454680537" cy="825.9361069836552" rx="11.700000000000001" ry="2.9" fill="#66bf66" stroke="#eef6e4" stroke-width="1" transform="rotate(5 271.86478454680537 825.9361069836552)"/><ellipse cx="333.15750371471023" cy="830.2080237741457" rx="14.3" ry="3.19" fill="#66bf66" stroke="#eef6e4" stroke-width="1" transform="rotate(0 333.15750371471023 830.2080237741457)"/><path d="M265.9,833.4 L257.9,837.0 L255.3,842.2 L247.7,838.3 L236.9,837.1 L244.9,833.4 L247.6,828.3 L255.2,832.1Z" fill="#66bf66" stroke="#eef6e4" stroke-width="1.1" stroke-linejoin="round"/><path d="M301.1,835.0 L289.6,836.4 L282.0,839.9 L278.1,835.7 L268.6,832.9 L280.1,831.4 L287.7,827.9 L291.6,832.2Z" fill="#66bf66" stroke="#eef6e4" stroke-width="1.1" stroke-linejoin="round"/><ellipse cx="301.58246656760775" cy="838.0089153046063" rx="7.800000000000001" ry="4.35" fill="#66bf66" stroke="#eef6e4" stroke-width="1" transform="rotate(0 301.58246656760775 838.0089153046063)"/><path d="M338.6,836.9 L330.0,839.8 L326.5,844.3 L319.6,840.6 L309.1,839.1 L317.7,836.2 L321.3,831.7 L328.2,835.4Z" fill="#66bf66" stroke="#eef6e4" stroke-width="1.1" stroke-linejoin="round"/><ellipse cx="346.1589895988113" cy="839.8662704309064" rx="8.399999999999999" ry="4.32" fill="#6cc36c" stroke="#eef6e4" stroke-width="1"/><ellipse cx="346.1589895988113" cy="839.8662704309064" rx="4.199999999999999" ry="2.16" fill="#58a95a"/><ellipse cx="266.2927191679049" cy="842.6523031203566" rx="13.0" ry="2.9" fill="#66bf66" stroke="#eef6e4" stroke-width="1" transform="rotate(-20 266.2927191679049 842.6523031203566)"/><path d="M301.7,846.9 L291.5,848.7 L285.4,852.4 L281.0,848.3 L271.8,845.8 L281.9,844.0 L288.0,840.3 L292.5,844.4Z" fill="#66bf66" stroke="#eef6e4" stroke-width="1.1" stroke-linejoin="round"/><ellipse cx="335.0148588410104" cy="845.8098068350669" rx="14.3" ry="3.19" fill="#66bf66" stroke="#eef6e4" stroke-width="1" transform="rotate(0 335.0148588410104 845.8098068350669)"/><path d="M283.3,854.9 L273.9,856.3 L267.7,859.8 L264.5,855.5 L256.7,852.7 L266.1,851.3 L272.4,847.8 L275.5,852.1Z" fill="#66bf66" stroke="#eef6e4" stroke-width="1.1" stroke-linejoin="round"/><ellipse cx="309.01188707280835" cy="851.3818722139673" rx="8.399999999999999" ry="4.32" fill="#6cc36c" stroke="#eef6e4" stroke-width="1"/><ellipse cx="309.01188707280835" cy="851.3818722139673" rx="4.199999999999999" ry="2.16" fill="#58a95a"/><ellipse cx="292.295690936107" cy="854.7251114413076" rx="11.700000000000001" ry="3.19" fill="#66bf66" stroke="#eef6e4" stroke-width="1" transform="rotate(-10 292.295690936107 854.7251114413076)"/></g>
<g><ellipse cx="486.1" cy="663.4" rx="9.4" ry="6.4" fill="#c00000"/><path d="M486.1,669.4 V686.9 M479.1,674.6999999999999 H494.1 M486.1,686.9 L470.40000000000003,695.9 M486.1,686.9 L494.3,698.6999999999999" fill="none" stroke="#7030a0" stroke-width="1.6"/><ellipse cx="505.9" cy="674.8" rx="9.4" ry="6.4" fill="#c00000"/><path d="M505.9,680.8 V698.3 M498.9,686.0999999999999 H513.9 M505.9,698.3 L490.2,707.3 M505.9,698.3 L514.1,710.0999999999999" fill="none" stroke="#7030a0" stroke-width="1.6"/><ellipse cx="465.2" cy="679.7" rx="9.4" ry="6.4" fill="#c00000"/><path d="M465.2,685.7 V703.2 M458.2,691.0 H473.2 M465.2,703.2 L449.5,712.2 M465.2,703.2 L473.4,715.0" fill="none" stroke="#7030a0" stroke-width="1.6"/><ellipse cx="571" cy="663.4" rx="9.4" ry="6.4" fill="#0070c0"/><path d="M571,669.4 V686.9 M564,674.6999999999999 H579 M571,686.9 L555.3,695.9 M571,686.9 L579.2,698.6999999999999" fill="none" stroke="#7030a0" stroke-width="1.6"/><ellipse cx="590.7" cy="674.8" rx="9.4" ry="6.4" fill="#0070c0"/><path d="M590.7,680.8 V698.3 M583.7,686.0999999999999 H598.7 M590.7,698.3 L575.0,707.3 M590.7,698.3 L598.9000000000001,710.0999999999999" fill="none" stroke="#7030a0" stroke-width="1.6"/><ellipse cx="550.1" cy="679.7" rx="9.4" ry="6.4" fill="#0070c0"/><path d="M550.1,685.7 V703.2 M543.1,691.0 H558.1 M550.1,703.2 L534.4,712.2 M550.1,703.2 L558.3000000000001,715.0" fill="none" stroke="#7030a0" stroke-width="1.6"/></g>
<line x1="520.8" y1="709.5" x2="520.8" y2="725.8" stroke="#5b9bd5" stroke-width="2"/><path d="M520.8,735.8 L515.3,725.8 L526.3,725.8 Z" fill="#5b9bd5"/><line x1="518.1" y1="810.9" x2="518.1" y2="828.0" stroke="#5b9bd5" stroke-width="2"/><path d="M518.1,838.0 L512.6,828.0 L523.6,828.0 Z" fill="#5b9bd5"/><line x1="578.6" y1="798.2" x2="543.6" y2="831.1" stroke="#5b9bd5" stroke-width="2"/><path d="M536.3,838.0 L539.8,827.1 L547.4,835.2 Z" fill="#5b9bd5"/>
<rect x="497.8" y="743.1" width="42.5" height="65.1" fill="#fff" stroke="#3468a3" stroke-width="1.5"/><g stroke="#7030a0" stroke-width="1.6"><line x1="501" y1="744.8" x2="537" y2="744.8"/><line x1="501" y1="751.0" x2="537" y2="751.0"/><line x1="501" y1="757.2" x2="537" y2="757.2"/><line x1="501" y1="763.4" x2="537" y2="763.4"/><line x1="501" y1="769.6" x2="537" y2="769.6"/><line x1="501" y1="775.8" x2="537" y2="775.8"/><line x1="501" y1="781.9" x2="537" y2="781.9"/><line x1="501" y1="788.1" x2="537" y2="788.1"/><line x1="501" y1="794.3" x2="537" y2="794.3"/></g>
<path d="M444.8,860.4 L477.3,834.7 L554.5,834.7 L521.9,860.4 Z" fill="none" stroke="#7030a0" stroke-width="1.8"/>
<path d="M488.8,866.6 L481.9,878 M488.8,866.6 L494.8,883.7 L512.7,886.4" stroke="#000" stroke-width="1.3" fill="none"/><g fill="#ffc000"><circle cx="488.8" cy="866.6" r="4.8"/><circle cx="481.9" cy="878" r="4.8"/><circle cx="494.8" cy="883.7" r="4.8"/><circle cx="512.7" cy="886.4" r="4.8"/></g>
<g><path d="M588.5,766.7 L581.7,778.4 M588.5,766.7 L594.2,784 L610.2,786.1" stroke="#000" stroke-width="1.3" fill="none"/><ellipse cx="588.5" cy="766.7" rx="4.4" ry="4" fill="#000"/><ellipse cx="588.5" cy="766.7" rx="1.2" ry="0.7" fill="#9a9a9a"/><ellipse cx="581.7" cy="778.4" rx="4.4" ry="4" fill="#000"/><ellipse cx="581.7" cy="778.4" rx="1.2" ry="0.7" fill="#9a9a9a"/><ellipse cx="594.2" cy="784" rx="4.4" ry="4" fill="#000"/><ellipse cx="594.2" cy="784" rx="1.2" ry="0.7" fill="#9a9a9a"/><ellipse cx="610.2" cy="786.1" rx="4.4" ry="4" fill="#000"/><ellipse cx="610.2" cy="786.1" rx="1.2" ry="0.7" fill="#9a9a9a"/><path d="M614.5,755.7 L607.9,767.1 M614.5,755.7 L620.4,773 L636.4,775" stroke="#000" stroke-width="1.3" fill="none"/><ellipse cx="614.5" cy="755.7" rx="4.4" ry="4" fill="#000"/><ellipse cx="614.5" cy="755.7" rx="1.2" ry="0.7" fill="#9a9a9a"/><ellipse cx="607.9" cy="767.1" rx="4.4" ry="4" fill="#000"/><ellipse cx="607.9" cy="767.1" rx="1.2" ry="0.7" fill="#9a9a9a"/><ellipse cx="620.4" cy="773" rx="4.4" ry="4" fill="#000"/><ellipse cx="620.4" cy="773" rx="1.2" ry="0.7" fill="#9a9a9a"/><ellipse cx="636.4" cy="775" rx="4.4" ry="4" fill="#000"/><ellipse cx="636.4" cy="775" rx="1.2" ry="0.7" fill="#9a9a9a"/><path d="M625.6,789.1 L618.8,800.3 M625.6,789.1 L631.2,806.2 L647.2,808.2" stroke="#000" stroke-width="1.3" fill="none"/><ellipse cx="625.6" cy="789.1" rx="4.4" ry="4" fill="#000"/><ellipse cx="625.6" cy="789.1" rx="1.2" ry="0.7" fill="#9a9a9a"/><ellipse cx="618.8" cy="800.3" rx="4.4" ry="4" fill="#000"/><ellipse cx="618.8" cy="800.3" rx="1.2" ry="0.7" fill="#9a9a9a"/><ellipse cx="631.2" cy="806.2" rx="4.4" ry="4" fill="#000"/><ellipse cx="631.2" cy="806.2" rx="1.2" ry="0.7" fill="#9a9a9a"/><ellipse cx="647.2" cy="808.2" rx="4.4" ry="4" fill="#000"/><ellipse cx="647.2" cy="808.2" rx="1.2" ry="0.7" fill="#9a9a9a"/></g>
<rect x="704.6" y="655.8" width="150.3" height="104.5" fill="none" stroke="#3468a3" stroke-width="1.6"/>
<rect x="704.2" y="768.9" width="149.6" height="104.2" fill="none" stroke="#3468a3" stroke-width="1.6"/>
<g stroke="#41719c" stroke-width="1.6"><ellipse cx="731.6" cy="675.6" rx="11.2" ry="12" fill="#e3e2e2"/><ellipse cx="767.3" cy="675.6" rx="11.2" ry="12" fill="#66c8ff"/><ellipse cx="799.6" cy="675.6" rx="11.2" ry="12" fill="#0066ff"/><ellipse cx="832.2" cy="675.6" rx="11.2" ry="12" fill="#e3e2e2"/><ellipse cx="731.6" cy="709" rx="11.2" ry="12" fill="#66c8ff"/><ellipse cx="767.3" cy="709" rx="11.2" ry="12" fill="#e3e2e2"/><ellipse cx="799.6" cy="709" rx="11.2" ry="12" fill="#e3e2e2"/><ellipse cx="832.2" cy="709" rx="11.2" ry="12" fill="#e3e2e2"/><ellipse cx="731.6" cy="742" rx="11.2" ry="12" fill="#e3e2e2"/><ellipse cx="767.3" cy="742" rx="11.2" ry="12" fill="#f0f0f0"/><ellipse cx="799.6" cy="742" rx="11.2" ry="12" fill="#e3e2e2"/><ellipse cx="832.2" cy="742" rx="11.2" ry="12" fill="#3399ff"/><ellipse cx="731.6" cy="789" rx="11.2" ry="12" fill="#3399ff"/><ellipse cx="767.3" cy="789" rx="11.2" ry="12" fill="#0000f5"/><ellipse cx="799.6" cy="789" rx="11.2" ry="12" fill="#0066ff"/><ellipse cx="832.2" cy="789" rx="11.2" ry="12" fill="#e3e2e2"/><ellipse cx="731.6" cy="821.3" rx="11.2" ry="12" fill="#66c8ff"/><ellipse cx="767.3" cy="821.3" rx="11.2" ry="12" fill="#e3e2e2"/><ellipse cx="799.6" cy="821.3" rx="11.2" ry="12" fill="#0000f5"/><ellipse cx="832.2" cy="821.3" rx="11.2" ry="12" fill="#3399ff"/><ellipse cx="731.6" cy="854.2" rx="11.2" ry="12" fill="#d9d9d9"/><ellipse cx="767.3" cy="854.2" rx="11.2" ry="12" fill="#0066ff"/><ellipse cx="799.6" cy="854.2" rx="11.2" ry="12" fill="#3399ff"/><ellipse cx="832.2" cy="854.2" rx="11.2" ry="12" fill="#0000f5"/></g>
<g stroke="#000" stroke-width="0.4">
<text x="70.95" y="127.6" font-size="30.55">Human cohort</text>
<text x="130.98" y="326.8" font-size="27.18">N = 632</text>
<text x="354.74" y="148.5" font-size="30.66">Data collection</text>
<text x="273.40" y="328.7" font-size="27.01">Genome Transcriptome Proteome</text>
<text x="762.72" y="153.0" font-size="27.69">QC</text>
<text x="829.53" y="141.7" font-size="26.79">DE</text>
<text x="697.3" y="244.9" font-size="27.6">Cor</text>
<text x="824.80" y="316.5" font-size="27.37">Venn</text>
<text x="60.80" y="399.2" font-size="29.90">Co-expression</text>
<text x="67.58" y="434.0" font-size="30.17">network</text>
<text x="384.14" y="404.7" font-size="30.62">MEGENA</text>
<text x="385.17" y="439.6" font-size="30.42">module ranking</text>
<text x="578.15" y="478.2" font-size="27.31">Top</text>
<text x="573.51" y="605.9" font-size="27.19">Bottom</text>
<text x="696.75" y="399.8" font-size="30.45">Bayesian causal</text>
<text x="696.9" y="434.0" font-size="30.03">network</text>
<text x="194.97" y="713.4" font-size="30.38">iPSC perturbation</text>
<text x="244.38" y="747.8" font-size="30.81">of AHNAK</text>
<text x="74.58" y="833.3" font-size="30.72">shRNAs</text>
<text x="460.40" y="856.9" font-size="27.00">GSEA</text>
<text x="631.29" y="685.7" font-size="31.16">MEA</text>
<text x="868.31" y="716.1" font-size="30.80">Mock</text>
<text x="858.20" y="818.3" font-size="26.74">shRNA</text>
<text x="854.60" y="844.3" font-size="27.06">AHNAK</text>

</g>
</svg>
</body></html>
